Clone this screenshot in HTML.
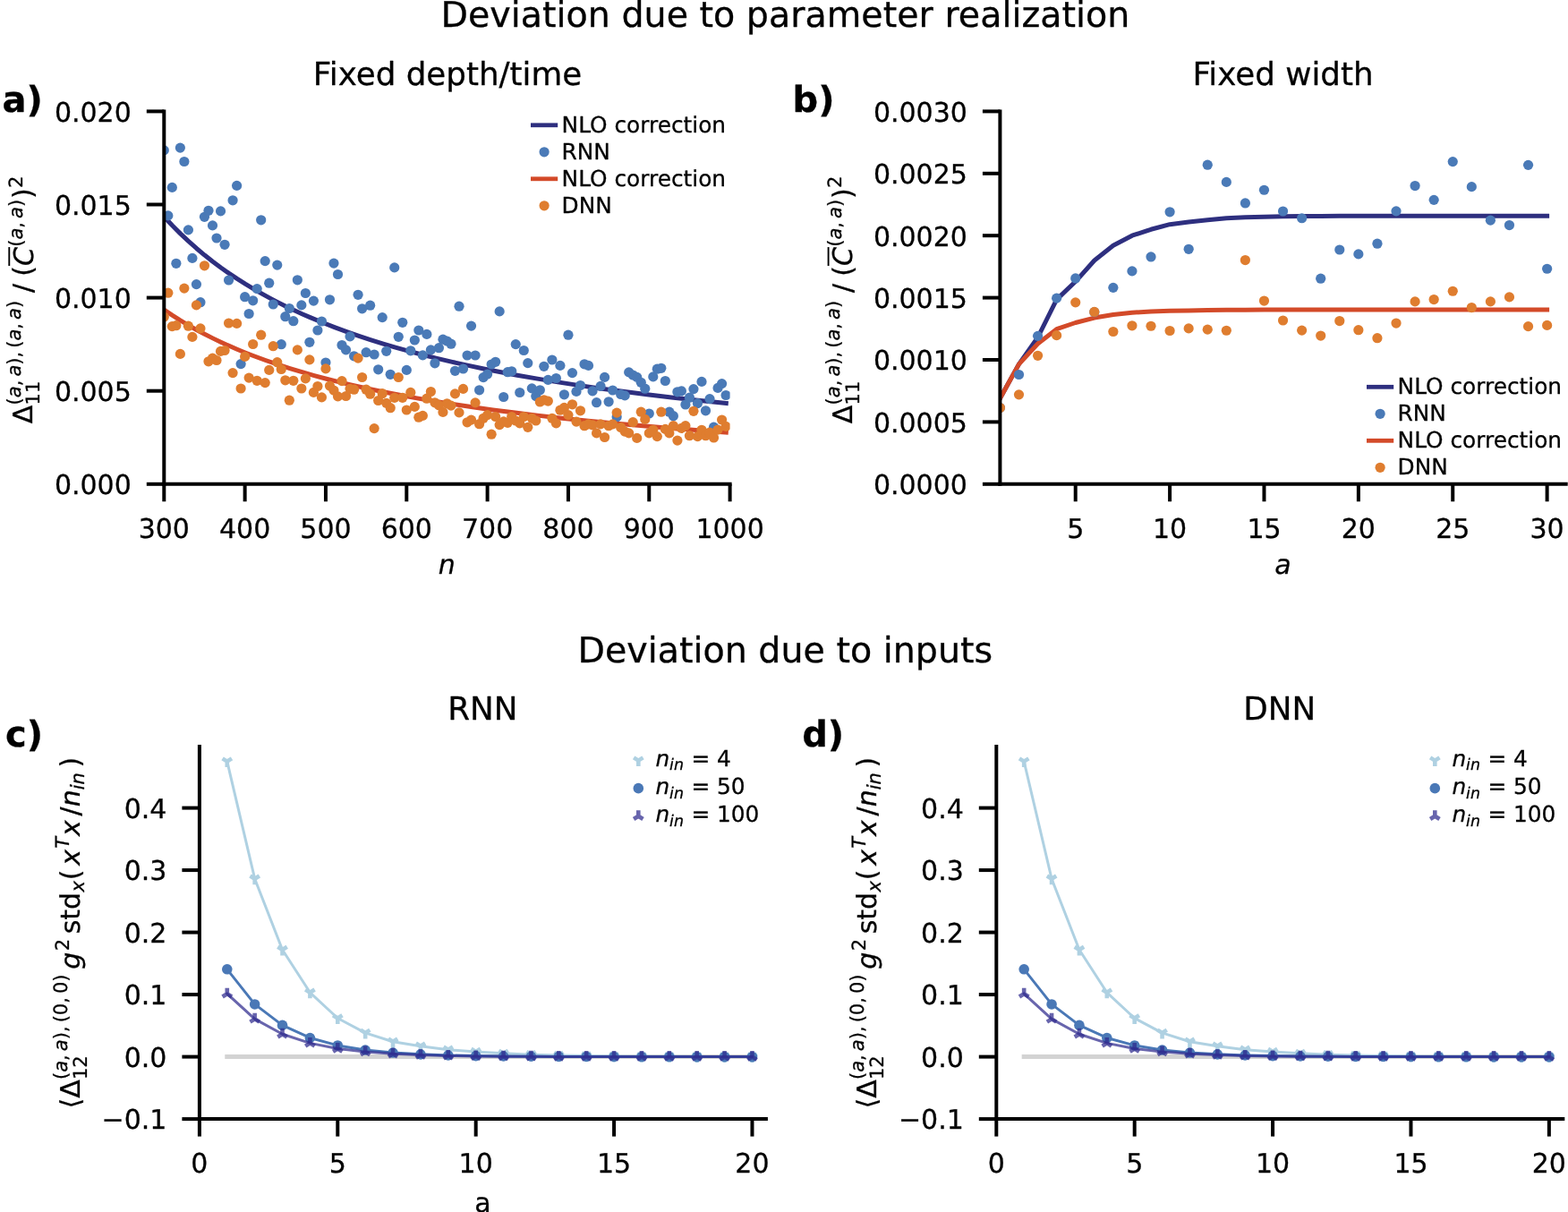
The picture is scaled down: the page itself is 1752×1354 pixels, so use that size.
<!DOCTYPE html>
<html><head><meta charset="utf-8"><title>Deviation due to parameter realization</title>
<style>html,body{margin:0;padding:0;background:#fff;width:1752px;height:1354px;overflow:hidden}svg{display:block}
text{font-family:"DejaVu Sans","Liberation Sans",sans-serif;text-rendering:geometricPrecision;stroke:#000;stroke-width:0.3px}</style></head>
<body>
<svg width="1752" height="1354" viewBox="0 0 1752 1354" version="1.1">
<defs>
<style type="text/css">*{stroke-linejoin: round; stroke-linecap: butt}</style>
</defs>
<g id="figure_1">
<g id="patch_1">
<path d="M 0 1354 
L 1752 1354 
L 1752 0 
L 0 0 
z
" style="fill: #ffffff"/>
</g>
<g id="axes_1">
<g id="line2d_1">
<path d="M 183.3 242.04 
L 192.37 251.77 
L 201.44 260.88 
L 210.51 269.43 
L 219.58 277.47 
L 228.65 285.05 
L 237.73 292.21 
L 246.80 298.97 
L 255.87 305.38 
L 264.94 311.45 
L 274.01 317.22 
L 283.09 322.70 
L 292.16 327.92 
L 301.23 332.89 
L 310.30 337.64 
L 319.37 342.17 
L 328.44 346.51 
L 337.52 350.65 
L 346.59 354.63 
L 360.20 360.28 
L 373.80 365.60 
L 387.41 370.62 
L 401.02 375.35 
L 414.63 379.83 
L 428.23 384.06 
L 441.84 388.08 
L 455.45 391.90 
L 469.06 395.53 
L 487.20 400.09 
L 505.35 404.38 
L 523.49 408.41 
L 541.63 412.21 
L 559.78 415.79 
L 577.92 419.18 
L 600.60 423.16 
L 623.28 426.88 
L 645.96 430.37 
L 668.64 433.66 
L 695.85 437.34 
L 723.07 440.78 
L 750.29 443.99 
L 777.50 447.00 
L 809.25 450.28 
L 813.79 450.73 
L 813.79 450.73 
" clip-path="url(#p0a8ad5ee20)" style="fill: none; stroke: #2e2f7f; stroke-width: 5"/>
</g>
<g id="line2d_2">
<path d="M 183.3 346.05 
L 192.37 352.19 
L 201.44 357.95 
L 210.51 363.37 
L 219.58 368.49 
L 228.65 373.32 
L 237.73 377.89 
L 246.80 382.22 
L 255.87 386.34 
L 264.94 390.24 
L 274.01 393.96 
L 283.09 397.51 
L 296.69 402.52 
L 310.30 407.21 
L 323.91 411.59 
L 337.52 415.71 
L 351.12 419.57 
L 364.73 423.22 
L 378.34 426.66 
L 391.95 429.91 
L 410.09 433.98 
L 428.23 437.77 
L 446.38 441.31 
L 464.52 444.63 
L 482.67 447.75 
L 505.35 451.38 
L 528.03 454.76 
L 550.70 457.91 
L 573.38 460.84 
L 600.60 464.12 
L 627.82 467.16 
L 655.03 469.99 
L 686.78 473.04 
L 718.53 475.86 
L 750.29 478.47 
L 786.57 481.24 
L 813.79 483.17 
L 813.79 483.17 
" clip-path="url(#p0a8ad5ee20)" style="fill: none; stroke: #d34a29; stroke-width: 5"/>
</g>
<g id="matplotlib.axis_1">
<g id="xtick_1">
<g id="line2d_3">
<g>
<path d="M 0 0 L 0 19.5" transform="translate(183.3 540.8)" style="stroke: #000000; stroke-width: 4"/>
</g>
</g>
<g id="text_1">
<text style="font-size: 30px; font-family: 'DejaVu Sans', 'Liberation Sans', sans-serif; text-anchor: middle" x="183.3" y="600.99">300</text>
</g>
</g>
<g id="xtick_2">
<g id="line2d_4">
<g>
<path d="M 0 0 L 0 19.5" transform="translate(273.63 540.8)" style="stroke: #000000; stroke-width: 4"/>
</g>
</g>
<g id="text_2">
<text style="font-size: 30px; font-family: 'DejaVu Sans', 'Liberation Sans', sans-serif; text-anchor: middle" x="273.62" y="600.99">400</text>
</g>
</g>
<g id="xtick_3">
<g id="line2d_5">
<g>
<path d="M 0 0 L 0 19.5" transform="translate(363.96 540.8)" style="stroke: #000000; stroke-width: 4"/>
</g>
</g>
<g id="text_3">
<text style="font-size: 30px; font-family: 'DejaVu Sans', 'Liberation Sans', sans-serif; text-anchor: middle" x="363.95" y="600.99">500</text>
</g>
</g>
<g id="xtick_4">
<g id="line2d_6">
<g>
<path d="M 0 0 L 0 19.5" transform="translate(454.29 540.8)" style="stroke: #000000; stroke-width: 4"/>
</g>
</g>
<g id="text_4">
<text style="font-size: 30px; font-family: 'DejaVu Sans', 'Liberation Sans', sans-serif; text-anchor: middle" x="454.28" y="600.99">600</text>
</g>
</g>
<g id="xtick_5">
<g id="line2d_7">
<g>
<path d="M 0 0 L 0 19.5" transform="translate(544.61 540.8)" style="stroke: #000000; stroke-width: 4"/>
</g>
</g>
<g id="text_5">
<text style="font-size: 30px; font-family: 'DejaVu Sans', 'Liberation Sans', sans-serif; text-anchor: middle" x="544.61" y="600.99">700</text>
</g>
</g>
<g id="xtick_6">
<g id="line2d_8">
<g>
<path d="M 0 0 L 0 19.5" transform="translate(634.94 540.8)" style="stroke: #000000; stroke-width: 4"/>
</g>
</g>
<g id="text_6">
<text style="font-size: 30px; font-family: 'DejaVu Sans', 'Liberation Sans', sans-serif; text-anchor: middle" x="634.94" y="600.99">800</text>
</g>
</g>
<g id="xtick_7">
<g id="line2d_9">
<g>
<path d="M 0 0 L 0 19.5" transform="translate(725.27 540.8)" style="stroke: #000000; stroke-width: 4"/>
</g>
</g>
<g id="text_7">
<text style="font-size: 30px; font-family: 'DejaVu Sans', 'Liberation Sans', sans-serif; text-anchor: middle" x="725.27" y="600.99">900</text>
</g>
</g>
<g id="xtick_8">
<g id="line2d_10">
<g>
<path d="M 0 0 L 0 19.5" transform="translate(815.6 540.8)" style="stroke: #000000; stroke-width: 4"/>
</g>
</g>
<g id="text_8">
<text style="font-size: 30px; font-family: 'DejaVu Sans', 'Liberation Sans', sans-serif; text-anchor: middle" x="815.6" y="600.99">1000</text>
</g>
</g>
</g>
<g id="matplotlib.axis_2">
<g id="ytick_1">
<g id="line2d_11">
<g>
<path d="M 0 0 L -19.5 0" transform="translate(183.3 540.8)" style="stroke: #000000; stroke-width: 4"/>
</g>
</g>
<g id="text_9">
<text style="font-size: 30px; font-family: 'DejaVu Sans', 'Liberation Sans', sans-serif; text-anchor: end" x="146.8" y="552.19">0.000</text>
</g>
</g>
<g id="ytick_2">
<g id="line2d_12">
<g>
<path d="M 0 0 L -19.5 0" transform="translate(183.3 436.7)" style="stroke: #000000; stroke-width: 4"/>
</g>
</g>
<g id="text_10">
<text style="font-size: 30px; font-family: 'DejaVu Sans', 'Liberation Sans', sans-serif; text-anchor: end" x="146.8" y="448.09">0.005</text>
</g>
</g>
<g id="ytick_3">
<g id="line2d_13">
<g>
<path d="M 0 0 L -19.5 0" transform="translate(183.3 332.6)" style="stroke: #000000; stroke-width: 4"/>
</g>
</g>
<g id="text_11">
<text style="font-size: 30px; font-family: 'DejaVu Sans', 'Liberation Sans', sans-serif; text-anchor: end" x="146.8" y="343.99">0.010</text>
</g>
</g>
<g id="ytick_4">
<g id="line2d_14">
<g>
<path d="M 0 0 L -19.5 0" transform="translate(183.3 228.5)" style="stroke: #000000; stroke-width: 4"/>
</g>
</g>
<g id="text_12">
<text style="font-size: 30px; font-family: 'DejaVu Sans', 'Liberation Sans', sans-serif; text-anchor: end" x="146.8" y="239.89">0.015</text>
</g>
</g>
<g id="ytick_5">
<g id="line2d_15">
<g>
<path d="M 0 0 L -19.5 0" transform="translate(183.3 124.4)" style="stroke: #000000; stroke-width: 4"/>
</g>
</g>
<g id="text_13">
<text style="font-size: 30px; font-family: 'DejaVu Sans', 'Liberation Sans', sans-serif; text-anchor: end" x="146.8" y="135.79">0.020</text>
</g>
</g>
</g>
<g id="line2d_16">
<g clip-path="url(#p0a8ad5ee20)">
<circle cx="183.3" cy="167.9" r="5.6" style="fill: #4a7ab7"/>
<circle cx="187.82" cy="240.9" r="5.6" style="fill: #4a7ab7"/>
<circle cx="192.33" cy="209.4" r="5.6" style="fill: #4a7ab7"/>
<circle cx="196.85" cy="294.3" r="5.6" style="fill: #4a7ab7"/>
<circle cx="201.37" cy="165.1" r="5.6" style="fill: #4a7ab7"/>
<circle cx="205.88" cy="180.5" r="5.6" style="fill: #4a7ab7"/>
<circle cx="210.4" cy="256.9" r="5.6" style="fill: #4a7ab7"/>
<circle cx="214.91" cy="288.4" r="5.6" style="fill: #4a7ab7"/>
<circle cx="219.43" cy="317.6" r="5.6" style="fill: #4a7ab7"/>
<circle cx="223.95" cy="337.7" r="5.6" style="fill: #4a7ab7"/>
<circle cx="228.46" cy="242.3" r="5.6" style="fill: #4a7ab7"/>
<circle cx="232.98" cy="235.3" r="5.6" style="fill: #4a7ab7"/>
<circle cx="237.5" cy="251.9" r="5.6" style="fill: #4a7ab7"/>
<circle cx="242.01" cy="266" r="5.6" style="fill: #4a7ab7"/>
<circle cx="246.53" cy="235.9" r="5.6" style="fill: #4a7ab7"/>
<circle cx="251.05" cy="273.3" r="5.6" style="fill: #4a7ab7"/>
<circle cx="255.56" cy="313" r="5.6" style="fill: #4a7ab7"/>
<circle cx="260.08" cy="223.8" r="5.6" style="fill: #4a7ab7"/>
<circle cx="264.6" cy="207.4" r="5.6" style="fill: #4a7ab7"/>
<circle cx="269.11" cy="406.6" r="5.6" style="fill: #4a7ab7"/>
<circle cx="273.63" cy="331.7" r="5.6" style="fill: #4a7ab7"/>
<circle cx="278.14" cy="350.5" r="5.6" style="fill: #4a7ab7"/>
<circle cx="282.66" cy="335.8" r="5.6" style="fill: #4a7ab7"/>
<circle cx="287.18" cy="322.6" r="5.6" style="fill: #4a7ab7"/>
<circle cx="291.69" cy="245.8" r="5.6" style="fill: #4a7ab7"/>
<circle cx="296.21" cy="291.6" r="5.6" style="fill: #4a7ab7"/>
<circle cx="300.73" cy="316.2" r="5.6" style="fill: #4a7ab7"/>
<circle cx="305.24" cy="340" r="5.6" style="fill: #4a7ab7"/>
<circle cx="309.76" cy="296.1" r="5.6" style="fill: #4a7ab7"/>
<circle cx="314.28" cy="384.7" r="5.6" style="fill: #4a7ab7"/>
<circle cx="318.79" cy="353.7" r="5.6" style="fill: #4a7ab7"/>
<circle cx="323.31" cy="344.5" r="5.6" style="fill: #4a7ab7"/>
<circle cx="327.83" cy="358.7" r="5.6" style="fill: #4a7ab7"/>
<circle cx="332.34" cy="312.8" r="5.6" style="fill: #4a7ab7"/>
<circle cx="336.86" cy="340.9" r="5.6" style="fill: #4a7ab7"/>
<circle cx="341.38" cy="327.5" r="5.6" style="fill: #4a7ab7"/>
<circle cx="345.89" cy="382.3" r="5.6" style="fill: #4a7ab7"/>
<circle cx="350.41" cy="336.1" r="5.6" style="fill: #4a7ab7"/>
<circle cx="354.92" cy="369" r="5.6" style="fill: #4a7ab7"/>
<circle cx="359.44" cy="359" r="5.6" style="fill: #4a7ab7"/>
<circle cx="363.96" cy="405" r="5.6" style="fill: #4a7ab7"/>
<circle cx="368.47" cy="334.8" r="5.6" style="fill: #4a7ab7"/>
<circle cx="372.99" cy="294.1" r="5.6" style="fill: #4a7ab7"/>
<circle cx="377.51" cy="306.5" r="5.6" style="fill: #4a7ab7"/>
<circle cx="382.02" cy="385.5" r="5.6" style="fill: #4a7ab7"/>
<circle cx="386.54" cy="390.9" r="5.6" style="fill: #4a7ab7"/>
<circle cx="391.06" cy="375.9" r="5.6" style="fill: #4a7ab7"/>
<circle cx="395.57" cy="397.8" r="5.6" style="fill: #4a7ab7"/>
<circle cx="400.09" cy="329.3" r="5.6" style="fill: #4a7ab7"/>
<circle cx="404.61" cy="344.8" r="5.6" style="fill: #4a7ab7"/>
<circle cx="409.12" cy="393.7" r="5.6" style="fill: #4a7ab7"/>
<circle cx="413.64" cy="341.2" r="5.6" style="fill: #4a7ab7"/>
<circle cx="418.15" cy="396" r="5.6" style="fill: #4a7ab7"/>
<circle cx="422.67" cy="412.8" r="5.6" style="fill: #4a7ab7"/>
<circle cx="427.19" cy="354.6" r="5.6" style="fill: #4a7ab7"/>
<circle cx="431.7" cy="392.3" r="5.6" style="fill: #4a7ab7"/>
<circle cx="436.22" cy="418.3" r="5.6" style="fill: #4a7ab7"/>
<circle cx="440.74" cy="298.9" r="5.6" style="fill: #4a7ab7"/>
<circle cx="445.25" cy="376.3" r="5.6" style="fill: #4a7ab7"/>
<circle cx="449.77" cy="360.3" r="5.6" style="fill: #4a7ab7"/>
<circle cx="454.29" cy="413.4" r="5.6" style="fill: #4a7ab7"/>
<circle cx="458.8" cy="391.8" r="5.6" style="fill: #4a7ab7"/>
<circle cx="463.32" cy="380" r="5.6" style="fill: #4a7ab7"/>
<circle cx="467.83" cy="369" r="5.6" style="fill: #4a7ab7"/>
<circle cx="472.35" cy="396.9" r="5.6" style="fill: #4a7ab7"/>
<circle cx="476.87" cy="373.4" r="5.6" style="fill: #4a7ab7"/>
<circle cx="481.38" cy="390.9" r="5.6" style="fill: #4a7ab7"/>
<circle cx="485.9" cy="405.8" r="5.6" style="fill: #4a7ab7"/>
<circle cx="490.42" cy="388.7" r="5.6" style="fill: #4a7ab7"/>
<circle cx="494.93" cy="379.2" r="5.6" style="fill: #4a7ab7"/>
<circle cx="499.45" cy="381" r="5.6" style="fill: #4a7ab7"/>
<circle cx="503.97" cy="384.2" r="5.6" style="fill: #4a7ab7"/>
<circle cx="508.48" cy="414.3" r="5.6" style="fill: #4a7ab7"/>
<circle cx="513" cy="342.2" r="5.6" style="fill: #4a7ab7"/>
<circle cx="517.52" cy="412" r="5.6" style="fill: #4a7ab7"/>
<circle cx="522.03" cy="397" r="5.6" style="fill: #4a7ab7"/>
<circle cx="526.55" cy="364.1" r="5.6" style="fill: #4a7ab7"/>
<circle cx="531.07" cy="397" r="5.6" style="fill: #4a7ab7"/>
<circle cx="535.58" cy="435.8" r="5.6" style="fill: #4a7ab7"/>
<circle cx="540.1" cy="421.6" r="5.6" style="fill: #4a7ab7"/>
<circle cx="544.61" cy="418" r="5.6" style="fill: #4a7ab7"/>
<circle cx="549.13" cy="407" r="5.6" style="fill: #4a7ab7"/>
<circle cx="553.65" cy="404.3" r="5.6" style="fill: #4a7ab7"/>
<circle cx="558.16" cy="347.9" r="5.6" style="fill: #4a7ab7"/>
<circle cx="562.68" cy="443.5" r="5.6" style="fill: #4a7ab7"/>
<circle cx="567.2" cy="415.7" r="5.6" style="fill: #4a7ab7"/>
<circle cx="571.71" cy="414.8" r="5.6" style="fill: #4a7ab7"/>
<circle cx="576.23" cy="384.6" r="5.6" style="fill: #4a7ab7"/>
<circle cx="580.75" cy="438.5" r="5.6" style="fill: #4a7ab7"/>
<circle cx="585.26" cy="391.5" r="5.6" style="fill: #4a7ab7"/>
<circle cx="589.78" cy="405.6" r="5.6" style="fill: #4a7ab7"/>
<circle cx="594.29" cy="433.9" r="5.6" style="fill: #4a7ab7"/>
<circle cx="598.81" cy="442.6" r="5.6" style="fill: #4a7ab7"/>
<circle cx="603.33" cy="435.8" r="5.6" style="fill: #4a7ab7"/>
<circle cx="607.84" cy="409.3" r="5.6" style="fill: #4a7ab7"/>
<circle cx="612.36" cy="424.4" r="5.6" style="fill: #4a7ab7"/>
<circle cx="616.88" cy="402" r="5.6" style="fill: #4a7ab7"/>
<circle cx="621.39" cy="422.5" r="5.6" style="fill: #4a7ab7"/>
<circle cx="625.91" cy="408.4" r="5.6" style="fill: #4a7ab7"/>
<circle cx="630.43" cy="440.8" r="5.6" style="fill: #4a7ab7"/>
<circle cx="634.94" cy="374.2" r="5.6" style="fill: #4a7ab7"/>
<circle cx="639.46" cy="416.6" r="5.6" style="fill: #4a7ab7"/>
<circle cx="643.98" cy="437.4" r="5.6" style="fill: #4a7ab7"/>
<circle cx="648.49" cy="430.5" r="5.6" style="fill: #4a7ab7"/>
<circle cx="653.01" cy="406.8" r="5.6" style="fill: #4a7ab7"/>
<circle cx="657.52" cy="408.4" r="5.6" style="fill: #4a7ab7"/>
<circle cx="662.04" cy="436.9" r="5.6" style="fill: #4a7ab7"/>
<circle cx="666.56" cy="449.7" r="5.6" style="fill: #4a7ab7"/>
<circle cx="671.07" cy="431.4" r="5.6" style="fill: #4a7ab7"/>
<circle cx="675.59" cy="421.4" r="5.6" style="fill: #4a7ab7"/>
<circle cx="680.11" cy="448.8" r="5.6" style="fill: #4a7ab7"/>
<circle cx="684.62" cy="436" r="5.6" style="fill: #4a7ab7"/>
<circle cx="689.14" cy="465.7" r="5.6" style="fill: #4a7ab7"/>
<circle cx="693.66" cy="440.5" r="5.6" style="fill: #4a7ab7"/>
<circle cx="698.17" cy="441.9" r="5.6" style="fill: #4a7ab7"/>
<circle cx="702.69" cy="415.9" r="5.6" style="fill: #4a7ab7"/>
<circle cx="707.21" cy="419" r="5.6" style="fill: #4a7ab7"/>
<circle cx="711.72" cy="421.4" r="5.6" style="fill: #4a7ab7"/>
<circle cx="716.24" cy="427.3" r="5.6" style="fill: #4a7ab7"/>
<circle cx="720.75" cy="434.2" r="5.6" style="fill: #4a7ab7"/>
<circle cx="725.27" cy="462" r="5.6" style="fill: #4a7ab7"/>
<circle cx="729.79" cy="420.9" r="5.6" style="fill: #4a7ab7"/>
<circle cx="734.3" cy="412.2" r="5.6" style="fill: #4a7ab7"/>
<circle cx="738.82" cy="411.3" r="5.6" style="fill: #4a7ab7"/>
<circle cx="743.34" cy="425.5" r="5.6" style="fill: #4a7ab7"/>
<circle cx="747.85" cy="460.2" r="5.6" style="fill: #4a7ab7"/>
<circle cx="752.37" cy="464.7" r="5.6" style="fill: #4a7ab7"/>
<circle cx="756.89" cy="437.8" r="5.6" style="fill: #4a7ab7"/>
<circle cx="761.4" cy="436.9" r="5.6" style="fill: #4a7ab7"/>
<circle cx="765.92" cy="452" r="5.6" style="fill: #4a7ab7"/>
<circle cx="770.44" cy="444.2" r="5.6" style="fill: #4a7ab7"/>
<circle cx="774.95" cy="434.6" r="5.6" style="fill: #4a7ab7"/>
<circle cx="779.47" cy="450.6" r="5.6" style="fill: #4a7ab7"/>
<circle cx="783.99" cy="426.4" r="5.6" style="fill: #4a7ab7"/>
<circle cx="788.5" cy="458.8" r="5.6" style="fill: #4a7ab7"/>
<circle cx="793.02" cy="445.6" r="5.6" style="fill: #4a7ab7"/>
<circle cx="797.53" cy="477.2" r="5.6" style="fill: #4a7ab7"/>
<circle cx="802.05" cy="433.4" r="5.6" style="fill: #4a7ab7"/>
<circle cx="806.57" cy="428.6" r="5.6" style="fill: #4a7ab7"/>
<circle cx="811.08" cy="441.5" r="5.6" style="fill: #4a7ab7"/>
</g>
</g>
<g id="line2d_17">
<g clip-path="url(#p0a8ad5ee20)">
<circle cx="183.3" cy="354.1" r="5.6" style="fill: #df7d2f"/>
<circle cx="187.82" cy="327.2" r="5.6" style="fill: #df7d2f"/>
<circle cx="192.33" cy="364.6" r="5.6" style="fill: #df7d2f"/>
<circle cx="196.85" cy="363.7" r="5.6" style="fill: #df7d2f"/>
<circle cx="201.37" cy="395.4" r="5.6" style="fill: #df7d2f"/>
<circle cx="205.88" cy="322.1" r="5.6" style="fill: #df7d2f"/>
<circle cx="210.4" cy="364.2" r="5.6" style="fill: #df7d2f"/>
<circle cx="214.91" cy="376.4" r="5.6" style="fill: #df7d2f"/>
<circle cx="219.43" cy="340.9" r="5.6" style="fill: #df7d2f"/>
<circle cx="223.95" cy="366.9" r="5.6" style="fill: #df7d2f"/>
<circle cx="228.46" cy="296.8" r="5.6" style="fill: #df7d2f"/>
<circle cx="232.98" cy="403.8" r="5.6" style="fill: #df7d2f"/>
<circle cx="237.5" cy="400.2" r="5.6" style="fill: #df7d2f"/>
<circle cx="242.01" cy="402.5" r="5.6" style="fill: #df7d2f"/>
<circle cx="246.53" cy="392.4" r="5.6" style="fill: #df7d2f"/>
<circle cx="251.05" cy="391.5" r="5.6" style="fill: #df7d2f"/>
<circle cx="255.56" cy="361" r="5.6" style="fill: #df7d2f"/>
<circle cx="260.08" cy="416.6" r="5.6" style="fill: #df7d2f"/>
<circle cx="264.6" cy="361.4" r="5.6" style="fill: #df7d2f"/>
<circle cx="269.11" cy="434" r="5.6" style="fill: #df7d2f"/>
<circle cx="273.63" cy="398.4" r="5.6" style="fill: #df7d2f"/>
<circle cx="278.14" cy="422.1" r="5.6" style="fill: #df7d2f"/>
<circle cx="282.66" cy="384.5" r="5.6" style="fill: #df7d2f"/>
<circle cx="287.18" cy="425.3" r="5.6" style="fill: #df7d2f"/>
<circle cx="291.69" cy="374.2" r="5.6" style="fill: #df7d2f"/>
<circle cx="296.21" cy="427.6" r="5.6" style="fill: #df7d2f"/>
<circle cx="300.73" cy="413.4" r="5.6" style="fill: #df7d2f"/>
<circle cx="305.24" cy="386.7" r="5.6" style="fill: #df7d2f"/>
<circle cx="309.76" cy="404.7" r="5.6" style="fill: #df7d2f"/>
<circle cx="314.28" cy="412.5" r="5.6" style="fill: #df7d2f"/>
<circle cx="318.79" cy="424.8" r="5.6" style="fill: #df7d2f"/>
<circle cx="323.31" cy="447.2" r="5.6" style="fill: #df7d2f"/>
<circle cx="327.83" cy="425.3" r="5.6" style="fill: #df7d2f"/>
<circle cx="332.34" cy="390.9" r="5.6" style="fill: #df7d2f"/>
<circle cx="336.86" cy="434" r="5.6" style="fill: #df7d2f"/>
<circle cx="341.38" cy="422.9" r="5.6" style="fill: #df7d2f"/>
<circle cx="345.89" cy="401.9" r="5.6" style="fill: #df7d2f"/>
<circle cx="350.41" cy="438.4" r="5.6" style="fill: #df7d2f"/>
<circle cx="354.92" cy="431.5" r="5.6" style="fill: #df7d2f"/>
<circle cx="359.44" cy="443.9" r="5.6" style="fill: #df7d2f"/>
<circle cx="363.96" cy="411.9" r="5.6" style="fill: #df7d2f"/>
<circle cx="368.47" cy="431.1" r="5.6" style="fill: #df7d2f"/>
<circle cx="372.99" cy="436.1" r="5.6" style="fill: #df7d2f"/>
<circle cx="377.51" cy="442.9" r="5.6" style="fill: #df7d2f"/>
<circle cx="382.02" cy="425.6" r="5.6" style="fill: #df7d2f"/>
<circle cx="386.54" cy="442.5" r="5.6" style="fill: #df7d2f"/>
<circle cx="391.06" cy="434.3" r="5.6" style="fill: #df7d2f"/>
<circle cx="395.57" cy="435.2" r="5.6" style="fill: #df7d2f"/>
<circle cx="400.09" cy="400.1" r="5.6" style="fill: #df7d2f"/>
<circle cx="404.61" cy="421.5" r="5.6" style="fill: #df7d2f"/>
<circle cx="409.12" cy="435.2" r="5.6" style="fill: #df7d2f"/>
<circle cx="413.64" cy="440.2" r="5.6" style="fill: #df7d2f"/>
<circle cx="418.15" cy="478.6" r="5.6" style="fill: #df7d2f"/>
<circle cx="422.67" cy="447.5" r="5.6" style="fill: #df7d2f"/>
<circle cx="427.19" cy="439.7" r="5.6" style="fill: #df7d2f"/>
<circle cx="431.7" cy="450.3" r="5.6" style="fill: #df7d2f"/>
<circle cx="436.22" cy="455.7" r="5.6" style="fill: #df7d2f"/>
<circle cx="440.74" cy="444.3" r="5.6" style="fill: #df7d2f"/>
<circle cx="445.25" cy="421.5" r="5.6" style="fill: #df7d2f"/>
<circle cx="449.77" cy="444.3" r="5.6" style="fill: #df7d2f"/>
<circle cx="454.29" cy="458" r="5.6" style="fill: #df7d2f"/>
<circle cx="458.8" cy="438.4" r="5.6" style="fill: #df7d2f"/>
<circle cx="463.32" cy="454.4" r="5.6" style="fill: #df7d2f"/>
<circle cx="467.83" cy="466.2" r="5.6" style="fill: #df7d2f"/>
<circle cx="472.35" cy="464.4" r="5.6" style="fill: #df7d2f"/>
<circle cx="476.87" cy="445.2" r="5.6" style="fill: #df7d2f"/>
<circle cx="481.38" cy="437.5" r="5.6" style="fill: #df7d2f"/>
<circle cx="485.9" cy="449.8" r="5.6" style="fill: #df7d2f"/>
<circle cx="490.42" cy="452.7" r="5.6" style="fill: #df7d2f"/>
<circle cx="494.93" cy="460.4" r="5.6" style="fill: #df7d2f"/>
<circle cx="499.45" cy="450.8" r="5.6" style="fill: #df7d2f"/>
<circle cx="503.97" cy="453.1" r="5.6" style="fill: #df7d2f"/>
<circle cx="508.48" cy="439.9" r="5.6" style="fill: #df7d2f"/>
<circle cx="513" cy="460.9" r="5.6" style="fill: #df7d2f"/>
<circle cx="517.52" cy="434.4" r="5.6" style="fill: #df7d2f"/>
<circle cx="522.03" cy="471.8" r="5.6" style="fill: #df7d2f"/>
<circle cx="526.55" cy="469.1" r="5.6" style="fill: #df7d2f"/>
<circle cx="531.07" cy="449.9" r="5.6" style="fill: #df7d2f"/>
<circle cx="535.58" cy="473.7" r="5.6" style="fill: #df7d2f"/>
<circle cx="540.1" cy="467.3" r="5.6" style="fill: #df7d2f"/>
<circle cx="544.61" cy="463.6" r="5.6" style="fill: #df7d2f"/>
<circle cx="549.13" cy="485.2" r="5.6" style="fill: #df7d2f"/>
<circle cx="553.65" cy="465.5" r="5.6" style="fill: #df7d2f"/>
<circle cx="558.16" cy="474.6" r="5.6" style="fill: #df7d2f"/>
<circle cx="562.68" cy="470.9" r="5.6" style="fill: #df7d2f"/>
<circle cx="567.2" cy="472.3" r="5.6" style="fill: #df7d2f"/>
<circle cx="571.71" cy="465.5" r="5.6" style="fill: #df7d2f"/>
<circle cx="576.23" cy="470" r="5.6" style="fill: #df7d2f"/>
<circle cx="580.75" cy="472.8" r="5.6" style="fill: #df7d2f"/>
<circle cx="585.26" cy="465.5" r="5.6" style="fill: #df7d2f"/>
<circle cx="589.78" cy="477.3" r="5.6" style="fill: #df7d2f"/>
<circle cx="594.29" cy="467.3" r="5.6" style="fill: #df7d2f"/>
<circle cx="598.81" cy="470" r="5.6" style="fill: #df7d2f"/>
<circle cx="603.33" cy="449" r="5.6" style="fill: #df7d2f"/>
<circle cx="607.84" cy="446.8" r="5.6" style="fill: #df7d2f"/>
<circle cx="612.36" cy="448.1" r="5.6" style="fill: #df7d2f"/>
<circle cx="616.88" cy="467.3" r="5.6" style="fill: #df7d2f"/>
<circle cx="621.39" cy="472.8" r="5.6" style="fill: #df7d2f"/>
<circle cx="625.91" cy="458.2" r="5.6" style="fill: #df7d2f"/>
<circle cx="630.43" cy="455.4" r="5.6" style="fill: #df7d2f"/>
<circle cx="634.94" cy="463.6" r="5.6" style="fill: #df7d2f"/>
<circle cx="639.46" cy="451.8" r="5.6" style="fill: #df7d2f"/>
<circle cx="643.98" cy="471.1" r="5.6" style="fill: #df7d2f"/>
<circle cx="648.49" cy="458.8" r="5.6" style="fill: #df7d2f"/>
<circle cx="653.01" cy="475.7" r="5.6" style="fill: #df7d2f"/>
<circle cx="657.52" cy="473.9" r="5.6" style="fill: #df7d2f"/>
<circle cx="662.04" cy="474.8" r="5.6" style="fill: #df7d2f"/>
<circle cx="666.56" cy="483.9" r="5.6" style="fill: #df7d2f"/>
<circle cx="671.07" cy="473.9" r="5.6" style="fill: #df7d2f"/>
<circle cx="675.59" cy="488.5" r="5.6" style="fill: #df7d2f"/>
<circle cx="680.11" cy="475.7" r="5.6" style="fill: #df7d2f"/>
<circle cx="684.62" cy="473.9" r="5.6" style="fill: #df7d2f"/>
<circle cx="689.14" cy="461.1" r="5.6" style="fill: #df7d2f"/>
<circle cx="693.66" cy="477.5" r="5.6" style="fill: #df7d2f"/>
<circle cx="698.17" cy="482.1" r="5.6" style="fill: #df7d2f"/>
<circle cx="702.69" cy="483.9" r="5.6" style="fill: #df7d2f"/>
<circle cx="707.21" cy="471.6" r="5.6" style="fill: #df7d2f"/>
<circle cx="711.72" cy="489.4" r="5.6" style="fill: #df7d2f"/>
<circle cx="716.24" cy="460.2" r="5.6" style="fill: #df7d2f"/>
<circle cx="720.75" cy="468.4" r="5.6" style="fill: #df7d2f"/>
<circle cx="725.27" cy="483.9" r="5.6" style="fill: #df7d2f"/>
<circle cx="729.79" cy="480.3" r="5.6" style="fill: #df7d2f"/>
<circle cx="734.3" cy="487.6" r="5.6" style="fill: #df7d2f"/>
<circle cx="738.82" cy="460.2" r="5.6" style="fill: #df7d2f"/>
<circle cx="743.34" cy="479.4" r="5.6" style="fill: #df7d2f"/>
<circle cx="747.85" cy="483.9" r="5.6" style="fill: #df7d2f"/>
<circle cx="752.37" cy="475.7" r="5.6" style="fill: #df7d2f"/>
<circle cx="756.89" cy="492.1" r="5.6" style="fill: #df7d2f"/>
<circle cx="761.4" cy="478.4" r="5.6" style="fill: #df7d2f"/>
<circle cx="765.92" cy="475.7" r="5.6" style="fill: #df7d2f"/>
<circle cx="770.44" cy="486.7" r="5.6" style="fill: #df7d2f"/>
<circle cx="774.95" cy="459.3" r="5.6" style="fill: #df7d2f"/>
<circle cx="779.47" cy="487.6" r="5.6" style="fill: #df7d2f"/>
<circle cx="783.99" cy="480.3" r="5.6" style="fill: #df7d2f"/>
<circle cx="788.5" cy="486.7" r="5.6" style="fill: #df7d2f"/>
<circle cx="793.02" cy="483.1" r="5.6" style="fill: #df7d2f"/>
<circle cx="797.53" cy="489" r="5.6" style="fill: #df7d2f"/>
<circle cx="802.05" cy="480.1" r="5.6" style="fill: #df7d2f"/>
<circle cx="806.57" cy="469" r="5.6" style="fill: #df7d2f"/>
<circle cx="811.08" cy="476.4" r="5.6" style="fill: #df7d2f"/>
</g>
</g>
<g id="patch_2">
<path d="M 183.3 540.8 
L 183.3 124.4 
" style="fill: none; stroke: #000000; stroke-width: 4; stroke-linejoin: miter; stroke-linecap: square"/>
</g>
<g id="patch_3">
<path d="M 183.3 540.8 
L 815.6 540.8 
" style="fill: none; stroke: #000000; stroke-width: 4; stroke-linejoin: miter; stroke-linecap: square"/>
</g>
</g>
<g id="axes_2">
<g id="line2d_18">
<path d="M 1117.4 445.02 
L 1138.47 406.85 
L 1159.55 377.01 
L 1180.63 334.68 
L 1201.70 314.55 
L 1222.78 290.96 
L 1243.86 274.30 
L 1264.93 263.2 
L 1286.01 256.26 
L 1307.09 250.70 
L 1328.16 247.93 
L 1349.24 245.71 
L 1370.32 243.76 
L 1391.39 242.79 
L 1412.47 242.24 
L 1433.55 241.82 
L 1454.62 241.54 
L 1475.70 241.40 
L 1496.78 241.26 
L 1517.85 241.13 
L 1538.93 241.13 
L 1560.01 241.13 
L 1581.08 241.13 
L 1602.16 241.13 
L 1623.24 241.13 
L 1644.31 241.13 
L 1665.39 241.13 
L 1686.47 241.13 
L 1707.54 241.13 
L 1728.62 241.13 
" clip-path="url(#pb2a341b785)" style="fill: none; stroke: #2e2f7f; stroke-width: 5; stroke-linecap: square"/>
</g>
<g id="line2d_19">
<path d="M 1117.4 445.02 
L 1138.47 406.85 
L 1159.55 383.95 
L 1180.63 367.71 
L 1201.70 360.49 
L 1222.78 355.08 
L 1243.86 351.47 
L 1264.93 349.25 
L 1286.01 348.00 
L 1307.09 347.31 
L 1328.16 346.89 
L 1349.24 346.48 
L 1370.32 346.34 
L 1391.39 346.20 
L 1412.47 346.06 
L 1433.55 346.06 
L 1454.62 346.06 
L 1475.70 346.06 
L 1496.78 346.06 
L 1517.85 346.06 
L 1538.93 346.06 
L 1560.01 346.06 
L 1581.08 346.06 
L 1602.16 346.06 
L 1623.24 346.06 
L 1644.31 346.06 
L 1665.39 346.06 
L 1686.47 346.06 
L 1707.54 346.06 
L 1728.62 346.06 
" clip-path="url(#pb2a341b785)" style="fill: none; stroke: #d34a29; stroke-width: 5; stroke-linecap: square"/>
</g>
<g id="matplotlib.axis_3">
<g id="xtick_9">
<g id="line2d_20">
<g>
<path d="M 0 0 L 0 19.5" transform="translate(1201.71 540.8)" style="stroke: #000000; stroke-width: 4"/>
</g>
</g>
<g id="text_14">
<text style="font-size: 30px; font-family: 'DejaVu Sans', 'Liberation Sans', sans-serif; text-anchor: middle" x="1201.70" y="600.99">5</text>
</g>
</g>
<g id="xtick_10">
<g id="line2d_21">
<g>
<path d="M 0 0 L 0 19.5" transform="translate(1307.09 540.8)" style="stroke: #000000; stroke-width: 4"/>
</g>
</g>
<g id="text_15">
<text style="font-size: 30px; font-family: 'DejaVu Sans', 'Liberation Sans', sans-serif; text-anchor: middle" x="1307.09" y="600.99">10</text>
</g>
</g>
<g id="xtick_11">
<g id="line2d_22">
<g>
<path d="M 0 0 L 0 19.5" transform="translate(1412.47 540.8)" style="stroke: #000000; stroke-width: 4"/>
</g>
</g>
<g id="text_16">
<text style="font-size: 30px; font-family: 'DejaVu Sans', 'Liberation Sans', sans-serif; text-anchor: middle" x="1412.47" y="600.99">15</text>
</g>
</g>
<g id="xtick_12">
<g id="line2d_23">
<g>
<path d="M 0 0 L 0 19.5" transform="translate(1517.86 540.8)" style="stroke: #000000; stroke-width: 4"/>
</g>
</g>
<g id="text_17">
<text style="font-size: 30px; font-family: 'DejaVu Sans', 'Liberation Sans', sans-serif; text-anchor: middle" x="1517.85" y="600.99">20</text>
</g>
</g>
<g id="xtick_13">
<g id="line2d_24">
<g>
<path d="M 0 0 L 0 19.5" transform="translate(1623.24 540.8)" style="stroke: #000000; stroke-width: 4"/>
</g>
</g>
<g id="text_18">
<text style="font-size: 30px; font-family: 'DejaVu Sans', 'Liberation Sans', sans-serif; text-anchor: middle" x="1623.24" y="600.99">25</text>
</g>
</g>
<g id="xtick_14">
<g id="line2d_25">
<g>
<path d="M 0 0 L 0 19.5" transform="translate(1728.62 540.8)" style="stroke: #000000; stroke-width: 4"/>
</g>
</g>
<g id="text_19">
<text style="font-size: 30px; font-family: 'DejaVu Sans', 'Liberation Sans', sans-serif; text-anchor: middle" x="1728.62" y="600.99">30</text>
</g>
</g>
</g>
<g id="matplotlib.axis_4">
<g id="ytick_6">
<g id="line2d_26">
<g>
<path d="M 0 0 L -19.5 0" transform="translate(1117.4 540.8)" style="stroke: #000000; stroke-width: 4"/>
</g>
</g>
<g id="text_20">
<text style="font-size: 30px; font-family: 'DejaVu Sans', 'Liberation Sans', sans-serif; text-anchor: end" x="1080.9" y="552.19">0.0000</text>
</g>
</g>
<g id="ytick_7">
<g id="line2d_27">
<g>
<path d="M 0 0 L -19.5 0" transform="translate(1117.4 471.4)" style="stroke: #000000; stroke-width: 4"/>
</g>
</g>
<g id="text_21">
<text style="font-size: 30px; font-family: 'DejaVu Sans', 'Liberation Sans', sans-serif; text-anchor: end" x="1080.9" y="482.79">0.0005</text>
</g>
</g>
<g id="ytick_8">
<g id="line2d_28">
<g>
<path d="M 0 0 L -19.5 0" transform="translate(1117.4 402)" style="stroke: #000000; stroke-width: 4"/>
</g>
</g>
<g id="text_22">
<text style="font-size: 30px; font-family: 'DejaVu Sans', 'Liberation Sans', sans-serif; text-anchor: end" x="1080.9" y="413.39">0.0010</text>
</g>
</g>
<g id="ytick_9">
<g id="line2d_29">
<g>
<path d="M 0 0 L -19.5 0" transform="translate(1117.4 332.6)" style="stroke: #000000; stroke-width: 4"/>
</g>
</g>
<g id="text_23">
<text style="font-size: 30px; font-family: 'DejaVu Sans', 'Liberation Sans', sans-serif; text-anchor: end" x="1080.9" y="343.99">0.0015</text>
</g>
</g>
<g id="ytick_10">
<g id="line2d_30">
<g>
<path d="M 0 0 L -19.5 0" transform="translate(1117.4 263.2)" style="stroke: #000000; stroke-width: 4"/>
</g>
</g>
<g id="text_24">
<text style="font-size: 30px; font-family: 'DejaVu Sans', 'Liberation Sans', sans-serif; text-anchor: end" x="1080.9" y="274.59">0.0020</text>
</g>
</g>
<g id="ytick_11">
<g id="line2d_31">
<g>
<path d="M 0 0 L -19.5 0" transform="translate(1117.4 193.8)" style="stroke: #000000; stroke-width: 4"/>
</g>
</g>
<g id="text_25">
<text style="font-size: 30px; font-family: 'DejaVu Sans', 'Liberation Sans', sans-serif; text-anchor: end" x="1080.9" y="205.19">0.0025</text>
</g>
</g>
<g id="ytick_12">
<g id="line2d_32">
<g>
<path d="M 0 0 L -19.5 0" transform="translate(1117.4 124.4)" style="stroke: #000000; stroke-width: 4"/>
</g>
</g>
<g id="text_26">
<text style="font-size: 30px; font-family: 'DejaVu Sans', 'Liberation Sans', sans-serif; text-anchor: end" x="1080.9" y="135.79">0.0030</text>
</g>
</g>
</g>
<g id="line2d_33">
<g clip-path="url(#pb2a341b785)">
<circle cx="1117.4" cy="455.58" r="5.6" style="fill: #4a7ab7"/>
<circle cx="1138.48" cy="418.52" r="5.6" style="fill: #4a7ab7"/>
<circle cx="1159.55" cy="375.35" r="5.6" style="fill: #4a7ab7"/>
<circle cx="1180.63" cy="333.16" r="5.6" style="fill: #4a7ab7"/>
<circle cx="1201.71" cy="310.95" r="5.6" style="fill: #4a7ab7"/>
<circle cx="1222.78" cy="348.7" r="5.6" style="fill: #4a7ab7"/>
<circle cx="1243.86" cy="321.36" r="5.6" style="fill: #4a7ab7"/>
<circle cx="1264.94" cy="302.9" r="5.6" style="fill: #4a7ab7"/>
<circle cx="1286.01" cy="286.93" r="5.6" style="fill: #4a7ab7"/>
<circle cx="1307.09" cy="236.83" r="5.6" style="fill: #4a7ab7"/>
<circle cx="1328.17" cy="278.33" r="5.6" style="fill: #4a7ab7"/>
<circle cx="1349.24" cy="184.22" r="5.6" style="fill: #4a7ab7"/>
<circle cx="1370.32" cy="203.38" r="5.6" style="fill: #4a7ab7"/>
<circle cx="1391.4" cy="226.97" r="5.6" style="fill: #4a7ab7"/>
<circle cx="1412.47" cy="212.26" r="5.6" style="fill: #4a7ab7"/>
<circle cx="1433.55" cy="236" r="5.6" style="fill: #4a7ab7"/>
<circle cx="1454.63" cy="243.77" r="5.6" style="fill: #4a7ab7"/>
<circle cx="1475.7" cy="311.22" r="5.6" style="fill: #4a7ab7"/>
<circle cx="1496.78" cy="279.02" r="5.6" style="fill: #4a7ab7"/>
<circle cx="1517.86" cy="283.88" r="5.6" style="fill: #4a7ab7"/>
<circle cx="1538.93" cy="272.22" r="5.6" style="fill: #4a7ab7"/>
<circle cx="1560.01" cy="235.86" r="5.6" style="fill: #4a7ab7"/>
<circle cx="1581.09" cy="207.54" r="5.6" style="fill: #4a7ab7"/>
<circle cx="1602.16" cy="223.36" r="5.6" style="fill: #4a7ab7"/>
<circle cx="1623.24" cy="180.61" r="5.6" style="fill: #4a7ab7"/>
<circle cx="1644.32" cy="208.65" r="5.6" style="fill: #4a7ab7"/>
<circle cx="1665.39" cy="246.13" r="5.6" style="fill: #4a7ab7"/>
<circle cx="1686.47" cy="251.54" r="5.6" style="fill: #4a7ab7"/>
<circle cx="1707.55" cy="184.36" r="5.6" style="fill: #4a7ab7"/>
<circle cx="1728.62" cy="300.26" r="5.6" style="fill: #4a7ab7"/>
</g>
</g>
<g id="line2d_34">
<g clip-path="url(#pb2a341b785)">
<circle cx="1117.4" cy="455.58" r="5.6" style="fill: #df7d2f"/>
<circle cx="1138.48" cy="440.86" r="5.6" style="fill: #df7d2f"/>
<circle cx="1159.55" cy="397.28" r="5.6" style="fill: #df7d2f"/>
<circle cx="1180.63" cy="374.66" r="5.6" style="fill: #df7d2f"/>
<circle cx="1201.71" cy="337.87" r="5.6" style="fill: #df7d2f"/>
<circle cx="1222.78" cy="348.42" r="5.6" style="fill: #df7d2f"/>
<circle cx="1243.86" cy="370.49" r="5.6" style="fill: #df7d2f"/>
<circle cx="1264.94" cy="363.83" r="5.6" style="fill: #df7d2f"/>
<circle cx="1286.01" cy="364.25" r="5.6" style="fill: #df7d2f"/>
<circle cx="1307.09" cy="369.52" r="5.6" style="fill: #df7d2f"/>
<circle cx="1328.17" cy="366.88" r="5.6" style="fill: #df7d2f"/>
<circle cx="1349.24" cy="368.13" r="5.6" style="fill: #df7d2f"/>
<circle cx="1370.32" cy="369.24" r="5.6" style="fill: #df7d2f"/>
<circle cx="1391.4" cy="290.54" r="5.6" style="fill: #df7d2f"/>
<circle cx="1412.47" cy="336.07" r="5.6" style="fill: #df7d2f"/>
<circle cx="1433.55" cy="358" r="5.6" style="fill: #df7d2f"/>
<circle cx="1454.63" cy="369.1" r="5.6" style="fill: #df7d2f"/>
<circle cx="1475.7" cy="375.07" r="5.6" style="fill: #df7d2f"/>
<circle cx="1496.78" cy="358.56" r="5.6" style="fill: #df7d2f"/>
<circle cx="1517.86" cy="368.69" r="5.6" style="fill: #df7d2f"/>
<circle cx="1538.93" cy="377.71" r="5.6" style="fill: #df7d2f"/>
<circle cx="1560.01" cy="361.05" r="5.6" style="fill: #df7d2f"/>
<circle cx="1581.09" cy="336.9" r="5.6" style="fill: #df7d2f"/>
<circle cx="1602.16" cy="334.54" r="5.6" style="fill: #df7d2f"/>
<circle cx="1623.24" cy="325.24" r="5.6" style="fill: #df7d2f"/>
<circle cx="1644.32" cy="343.57" r="5.6" style="fill: #df7d2f"/>
<circle cx="1665.39" cy="336.9" r="5.6" style="fill: #df7d2f"/>
<circle cx="1686.47" cy="331.91" r="5.6" style="fill: #df7d2f"/>
<circle cx="1707.55" cy="364.66" r="5.6" style="fill: #df7d2f"/>
<circle cx="1728.62" cy="363.41" r="5.6" style="fill: #df7d2f"/>
</g>
</g>
<g id="patch_4">
<path d="M 1117.4 540.8 
L 1117.4 124.4 
" style="fill: none; stroke: #000000; stroke-width: 4; stroke-linejoin: miter; stroke-linecap: square"/>
</g>
<g id="patch_5">
<path d="M 1117.4 540.8 
L 1749.7 540.8 
" style="fill: none; stroke: #000000; stroke-width: 4; stroke-linejoin: miter; stroke-linecap: square"/>
</g>
</g>
<g id="axes_3">
<g id="line2d_35">
<path d="M 253.77 1180.59 
L 840.46 1180.59 
" clip-path="url(#p0fbfef0906)" style="fill: none; stroke: #d3d3d3; stroke-width: 5; stroke-linecap: square"/>
</g>
<g id="matplotlib.axis_5">
<g id="xtick_15">
<g id="line2d_36">
<g>
<path d="M 0 0 L 0 19.5" transform="translate(222.9 1250.1)" style="stroke: #000000; stroke-width: 4"/>
</g>
</g>
<g id="text_27">
<text style="font-size: 30px; font-family: 'DejaVu Sans', 'Liberation Sans', sans-serif; text-anchor: middle" x="222.9" y="1310.29">0</text>
</g>
</g>
<g id="xtick_16">
<g id="line2d_37">
<g>
<path d="M 0 0 L 0 19.5" transform="translate(377.29 1250.1)" style="stroke: #000000; stroke-width: 4"/>
</g>
</g>
<g id="text_28">
<text style="font-size: 30px; font-family: 'DejaVu Sans', 'Liberation Sans', sans-serif; text-anchor: middle" x="377.29" y="1310.29">5</text>
</g>
</g>
<g id="xtick_17">
<g id="line2d_38">
<g>
<path d="M 0 0 L 0 19.5" transform="translate(531.68 1250.1)" style="stroke: #000000; stroke-width: 4"/>
</g>
</g>
<g id="text_29">
<text style="font-size: 30px; font-family: 'DejaVu Sans', 'Liberation Sans', sans-serif; text-anchor: middle" x="531.68" y="1310.29">10</text>
</g>
</g>
<g id="xtick_18">
<g id="line2d_39">
<g>
<path d="M 0 0 L 0 19.5" transform="translate(686.07 1250.1)" style="stroke: #000000; stroke-width: 4"/>
</g>
</g>
<g id="text_30">
<text style="font-size: 30px; font-family: 'DejaVu Sans', 'Liberation Sans', sans-serif; text-anchor: middle" x="686.07" y="1310.29">15</text>
</g>
</g>
<g id="xtick_19">
<g id="line2d_40">
<g>
<path d="M 0 0 L 0 19.5" transform="translate(840.46 1250.1)" style="stroke: #000000; stroke-width: 4"/>
</g>
</g>
<g id="text_31">
<text style="font-size: 30px; font-family: 'DejaVu Sans', 'Liberation Sans', sans-serif; text-anchor: middle" x="840.46" y="1310.29">20</text>
</g>
</g>
</g>
<g id="matplotlib.axis_6">
<g id="ytick_13">
<g id="line2d_41">
<g>
<path d="M 0 0 L -19.5 0" transform="translate(222.9 1250.1)" style="stroke: #000000; stroke-width: 4"/>
</g>
</g>
<g id="text_32">
<text style="font-size: 30px; font-family: 'DejaVu Sans', 'Liberation Sans', sans-serif; text-anchor: end" x="186.4" y="1261.49">−0.1</text>
</g>
</g>
<g id="ytick_14">
<g id="line2d_42">
<g>
<path d="M 0 0 L -19.5 0" transform="translate(222.9 1180.6)" style="stroke: #000000; stroke-width: 4"/>
</g>
</g>
<g id="text_33">
<text style="font-size: 30px; font-family: 'DejaVu Sans', 'Liberation Sans', sans-serif; text-anchor: end" x="186.4" y="1191.99">0.0</text>
</g>
</g>
<g id="ytick_15">
<g id="line2d_43">
<g>
<path d="M 0 0 L -19.5 0" transform="translate(222.9 1111.1)" style="stroke: #000000; stroke-width: 4"/>
</g>
</g>
<g id="text_34">
<text style="font-size: 30px; font-family: 'DejaVu Sans', 'Liberation Sans', sans-serif; text-anchor: end" x="186.4" y="1122.49">0.1</text>
</g>
</g>
<g id="ytick_16">
<g id="line2d_44">
<g>
<path d="M 0 0 L -19.5 0" transform="translate(222.9 1041.6)" style="stroke: #000000; stroke-width: 4"/>
</g>
</g>
<g id="text_35">
<text style="font-size: 30px; font-family: 'DejaVu Sans', 'Liberation Sans', sans-serif; text-anchor: end" x="186.4" y="1052.99">0.2</text>
</g>
</g>
<g id="ytick_17">
<g id="line2d_45">
<g>
<path d="M 0 0 L -19.5 0" transform="translate(222.9 972.1)" style="stroke: #000000; stroke-width: 4"/>
</g>
</g>
<g id="text_36">
<text style="font-size: 30px; font-family: 'DejaVu Sans', 'Liberation Sans', sans-serif; text-anchor: end" x="186.4" y="983.49">0.3</text>
</g>
</g>
<g id="ytick_18">
<g id="line2d_46">
<g>
<path d="M 0 0 L -19.5 0" transform="translate(222.9 902.6)" style="stroke: #000000; stroke-width: 4"/>
</g>
</g>
<g id="text_37">
<text style="font-size: 30px; font-family: 'DejaVu Sans', 'Liberation Sans', sans-serif; text-anchor: end" x="186.4" y="913.99">0.4</text>
</g>
</g>
</g>
<g id="line2d_47">
<path d="M 253.77 850.61 
L 284.65 981.68 
L 315.53 1060.98 
L 346.41 1108.80 
L 377.29 1137.50 
L 408.16 1153.91 
L 439.04 1163.71 
L 469.92 1168.78 
L 500.80 1172.74 
L 531.68 1175.03 
L 562.55 1176.84 
L 593.43 1178.15 
L 624.31 1179.01 
L 655.19 1179.56 
L 686.07 1179.92 
L 716.94 1180.16 
L 747.82 1180.31 
L 778.70 1180.41 
L 809.58 1180.47 
L 840.46 1180.52 
" clip-path="url(#p0fbfef0906)" style="fill: none; stroke: #afd1e2; stroke-width: 3; stroke-linecap: square"/>
<g clip-path="url(#p0fbfef0906)">
<path d="M 0 0 L 0 6.5 M 0 0 L 5.2 -3.25 M 0 0 L -5.2 -3.25" transform="translate(253.78 850.61)" style="fill: #afd1e2; stroke: #afd1e2; stroke-width: 4.6"/>
<path d="M 0 0 L 0 6.5 M 0 0 L 5.2 -3.25 M 0 0 L -5.2 -3.25" transform="translate(284.66 981.69)" style="fill: #afd1e2; stroke: #afd1e2; stroke-width: 4.6"/>
<path d="M 0 0 L 0 6.5 M 0 0 L 5.2 -3.25 M 0 0 L -5.2 -3.25" transform="translate(315.53 1060.99)" style="fill: #afd1e2; stroke: #afd1e2; stroke-width: 4.6"/>
<path d="M 0 0 L 0 6.5 M 0 0 L 5.2 -3.25 M 0 0 L -5.2 -3.25" transform="translate(346.41 1108.81)" style="fill: #afd1e2; stroke: #afd1e2; stroke-width: 4.6"/>
<path d="M 0 0 L 0 6.5 M 0 0 L 5.2 -3.25 M 0 0 L -5.2 -3.25" transform="translate(377.29 1137.51)" style="fill: #afd1e2; stroke: #afd1e2; stroke-width: 4.6"/>
<path d="M 0 0 L 0 6.5 M 0 0 L 5.2 -3.25 M 0 0 L -5.2 -3.25" transform="translate(408.17 1153.91)" style="fill: #afd1e2; stroke: #afd1e2; stroke-width: 4.6"/>
<path d="M 0 0 L 0 6.5 M 0 0 L 5.2 -3.25 M 0 0 L -5.2 -3.25" transform="translate(439.05 1163.71)" style="fill: #afd1e2; stroke: #afd1e2; stroke-width: 4.6"/>
<path d="M 0 0 L 0 6.5 M 0 0 L 5.2 -3.25 M 0 0 L -5.2 -3.25" transform="translate(469.92 1168.78)" style="fill: #afd1e2; stroke: #afd1e2; stroke-width: 4.6"/>
<path d="M 0 0 L 0 6.5 M 0 0 L 5.2 -3.25 M 0 0 L -5.2 -3.25" transform="translate(500.8 1172.75)" style="fill: #afd1e2; stroke: #afd1e2; stroke-width: 4.6"/>
<path d="M 0 0 L 0 6.5 M 0 0 L 5.2 -3.25 M 0 0 L -5.2 -3.25" transform="translate(531.68 1175.04)" style="fill: #afd1e2; stroke: #afd1e2; stroke-width: 4.6"/>
<path d="M 0 0 L 0 6.5 M 0 0 L 5.2 -3.25 M 0 0 L -5.2 -3.25" transform="translate(562.56 1176.85)" style="fill: #afd1e2; stroke: #afd1e2; stroke-width: 4.6"/>
<path d="M 0 0 L 0 6.5 M 0 0 L 5.2 -3.25 M 0 0 L -5.2 -3.25" transform="translate(593.44 1178.16)" style="fill: #afd1e2; stroke: #afd1e2; stroke-width: 4.6"/>
<path d="M 0 0 L 0 6.5 M 0 0 L 5.2 -3.25 M 0 0 L -5.2 -3.25" transform="translate(624.31 1179.01)" style="fill: #afd1e2; stroke: #afd1e2; stroke-width: 4.6"/>
<path d="M 0 0 L 0 6.5 M 0 0 L 5.2 -3.25 M 0 0 L -5.2 -3.25" transform="translate(655.19 1179.57)" style="fill: #afd1e2; stroke: #afd1e2; stroke-width: 4.6"/>
<path d="M 0 0 L 0 6.5 M 0 0 L 5.2 -3.25 M 0 0 L -5.2 -3.25" transform="translate(686.07 1179.93)" style="fill: #afd1e2; stroke: #afd1e2; stroke-width: 4.6"/>
<path d="M 0 0 L 0 6.5 M 0 0 L 5.2 -3.25 M 0 0 L -5.2 -3.25" transform="translate(716.95 1180.16)" style="fill: #afd1e2; stroke: #afd1e2; stroke-width: 4.6"/>
<path d="M 0 0 L 0 6.5 M 0 0 L 5.2 -3.25 M 0 0 L -5.2 -3.25" transform="translate(747.83 1180.32)" style="fill: #afd1e2; stroke: #afd1e2; stroke-width: 4.6"/>
<path d="M 0 0 L 0 6.5 M 0 0 L 5.2 -3.25 M 0 0 L -5.2 -3.25" transform="translate(778.7 1180.42)" style="fill: #afd1e2; stroke: #afd1e2; stroke-width: 4.6"/>
<path d="M 0 0 L 0 6.5 M 0 0 L 5.2 -3.25 M 0 0 L -5.2 -3.25" transform="translate(809.58 1180.48)" style="fill: #afd1e2; stroke: #afd1e2; stroke-width: 4.6"/>
<path d="M 0 0 L 0 6.5 M 0 0 L 5.2 -3.25 M 0 0 L -5.2 -3.25" transform="translate(840.46 1180.52)" style="fill: #afd1e2; stroke: #afd1e2; stroke-width: 4.6"/>
</g>
</g>
<g id="patch_6">
<path d="M 222.9 1250.1 
L 222.9 834 
" style="fill: none; stroke: #000000; stroke-width: 4; stroke-linejoin: miter; stroke-linecap: square"/>
</g>
<g id="patch_7">
<path d="M 222.9 1250.1 
L 855.9 1250.1 
" style="fill: none; stroke: #000000; stroke-width: 4; stroke-linejoin: miter; stroke-linecap: square"/>
</g>
<g id="line2d_48">
<path d="M 253.77 1082.81 
L 284.65 1121.92 
L 315.53 1145.39 
L 346.41 1159.47 
L 377.29 1167.92 
L 408.16 1172.99 
L 439.04 1176.03 
L 469.92 1177.86 
L 500.80 1178.95 
L 531.68 1179.61 
L 562.55 1180.00 
L 593.43 1180.24 
L 624.31 1180.38 
L 655.19 1180.47 
L 686.07 1180.52 
L 716.94 1180.55 
L 747.82 1180.57 
L 778.70 1180.58 
L 809.58 1180.58 
L 840.46 1180.59 
" clip-path="url(#p0fbfef0906)" style="fill: none; stroke: #4a78b6; stroke-width: 3; stroke-linecap: square"/>
<g clip-path="url(#p0fbfef0906)">
<circle cx="253.78" cy="1082.81" r="5.8" style="fill: #4a78b6"/>
<circle cx="284.66" cy="1121.93" r="5.8" style="fill: #4a78b6"/>
<circle cx="315.53" cy="1145.4" r="5.8" style="fill: #4a78b6"/>
<circle cx="346.41" cy="1159.48" r="5.8" style="fill: #4a78b6"/>
<circle cx="377.29" cy="1167.93" r="5.8" style="fill: #4a78b6"/>
<circle cx="408.17" cy="1173" r="5.8" style="fill: #4a78b6"/>
<circle cx="439.05" cy="1176.04" r="5.8" style="fill: #4a78b6"/>
<circle cx="469.92" cy="1177.86" r="5.8" style="fill: #4a78b6"/>
<circle cx="500.8" cy="1178.96" r="5.8" style="fill: #4a78b6"/>
<circle cx="531.68" cy="1179.61" r="5.8" style="fill: #4a78b6"/>
<circle cx="562.56" cy="1180.01" r="5.8" style="fill: #4a78b6"/>
<circle cx="593.44" cy="1180.24" r="5.8" style="fill: #4a78b6"/>
<circle cx="624.31" cy="1180.39" r="5.8" style="fill: #4a78b6"/>
<circle cx="655.19" cy="1180.47" r="5.8" style="fill: #4a78b6"/>
<circle cx="686.07" cy="1180.52" r="5.8" style="fill: #4a78b6"/>
<circle cx="716.95" cy="1180.55" r="5.8" style="fill: #4a78b6"/>
<circle cx="747.83" cy="1180.57" r="5.8" style="fill: #4a78b6"/>
<circle cx="778.7" cy="1180.58" r="5.8" style="fill: #4a78b6"/>
<circle cx="809.58" cy="1180.59" r="5.8" style="fill: #4a78b6"/>
<circle cx="840.46" cy="1180.59" r="5.8" style="fill: #4a78b6"/>
</g>
</g>
<g id="line2d_49">
<path d="M 253.77 1110.19 
L 284.65 1138.35 
L 315.53 1155.25 
L 346.41 1165.39 
L 377.29 1171.47 
L 408.16 1175.12 
L 439.04 1177.31 
L 469.92 1178.62 
L 500.80 1179.41 
L 531.68 1179.88 
L 562.55 1180.17 
L 593.43 1180.34 
L 624.31 1180.44 
L 655.19 1180.50 
L 686.07 1180.54 
L 716.94 1180.56 
L 747.82 1180.57 
L 778.70 1180.58 
L 809.58 1180.59 
L 840.46 1180.59 
" clip-path="url(#p0fbfef0906)" style="fill: none; stroke: #2e2a8e; stroke-opacity: 0.72; stroke-width: 3; stroke-linecap: square"/>
<g clip-path="url(#p0fbfef0906)">
<path d="M 0 0 L 0 -6.5 M 0 0 L -5.2 3.25 M 0 0 L 5.2 3.25" transform="translate(253.78 1110.2)" style="fill: #2e2a8e; fill-opacity: 0.72; stroke: #2e2a8e; stroke-opacity: 0.72; stroke-width: 4.6"/>
<path d="M 0 0 L 0 -6.5 M 0 0 L -5.2 3.25 M 0 0 L 5.2 3.25" transform="translate(284.66 1138.36)" style="fill: #2e2a8e; fill-opacity: 0.72; stroke: #2e2a8e; stroke-opacity: 0.72; stroke-width: 4.6"/>
<path d="M 0 0 L 0 -6.5 M 0 0 L -5.2 3.25 M 0 0 L 5.2 3.25" transform="translate(315.53 1155.25)" style="fill: #2e2a8e; fill-opacity: 0.72; stroke: #2e2a8e; stroke-opacity: 0.72; stroke-width: 4.6"/>
<path d="M 0 0 L 0 -6.5 M 0 0 L -5.2 3.25 M 0 0 L 5.2 3.25" transform="translate(346.41 1165.39)" style="fill: #2e2a8e; fill-opacity: 0.72; stroke: #2e2a8e; stroke-opacity: 0.72; stroke-width: 4.6"/>
<path d="M 0 0 L 0 -6.5 M 0 0 L -5.2 3.25 M 0 0 L 5.2 3.25" transform="translate(377.29 1171.48)" style="fill: #2e2a8e; fill-opacity: 0.72; stroke: #2e2a8e; stroke-opacity: 0.72; stroke-width: 4.6"/>
<path d="M 0 0 L 0 -6.5 M 0 0 L -5.2 3.25 M 0 0 L 5.2 3.25" transform="translate(408.17 1175.12)" style="fill: #2e2a8e; fill-opacity: 0.72; stroke: #2e2a8e; stroke-opacity: 0.72; stroke-width: 4.6"/>
<path d="M 0 0 L 0 -6.5 M 0 0 L -5.2 3.25 M 0 0 L 5.2 3.25" transform="translate(439.05 1177.31)" style="fill: #2e2a8e; fill-opacity: 0.72; stroke: #2e2a8e; stroke-opacity: 0.72; stroke-width: 4.6"/>
<path d="M 0 0 L 0 -6.5 M 0 0 L -5.2 3.25 M 0 0 L 5.2 3.25" transform="translate(469.92 1178.63)" style="fill: #2e2a8e; fill-opacity: 0.72; stroke: #2e2a8e; stroke-opacity: 0.72; stroke-width: 4.6"/>
<path d="M 0 0 L 0 -6.5 M 0 0 L -5.2 3.25 M 0 0 L 5.2 3.25" transform="translate(500.8 1179.42)" style="fill: #2e2a8e; fill-opacity: 0.72; stroke: #2e2a8e; stroke-opacity: 0.72; stroke-width: 4.6"/>
<path d="M 0 0 L 0 -6.5 M 0 0 L -5.2 3.25 M 0 0 L 5.2 3.25" transform="translate(531.68 1179.89)" style="fill: #2e2a8e; fill-opacity: 0.72; stroke: #2e2a8e; stroke-opacity: 0.72; stroke-width: 4.6"/>
<path d="M 0 0 L 0 -6.5 M 0 0 L -5.2 3.25 M 0 0 L 5.2 3.25" transform="translate(562.56 1180.17)" style="fill: #2e2a8e; fill-opacity: 0.72; stroke: #2e2a8e; stroke-opacity: 0.72; stroke-width: 4.6"/>
<path d="M 0 0 L 0 -6.5 M 0 0 L -5.2 3.25 M 0 0 L 5.2 3.25" transform="translate(593.44 1180.34)" style="fill: #2e2a8e; fill-opacity: 0.72; stroke: #2e2a8e; stroke-opacity: 0.72; stroke-width: 4.6"/>
<path d="M 0 0 L 0 -6.5 M 0 0 L -5.2 3.25 M 0 0 L 5.2 3.25" transform="translate(624.31 1180.45)" style="fill: #2e2a8e; fill-opacity: 0.72; stroke: #2e2a8e; stroke-opacity: 0.72; stroke-width: 4.6"/>
<path d="M 0 0 L 0 -6.5 M 0 0 L -5.2 3.25 M 0 0 L 5.2 3.25" transform="translate(655.19 1180.51)" style="fill: #2e2a8e; fill-opacity: 0.72; stroke: #2e2a8e; stroke-opacity: 0.72; stroke-width: 4.6"/>
<path d="M 0 0 L 0 -6.5 M 0 0 L -5.2 3.25 M 0 0 L 5.2 3.25" transform="translate(686.07 1180.54)" style="fill: #2e2a8e; fill-opacity: 0.72; stroke: #2e2a8e; stroke-opacity: 0.72; stroke-width: 4.6"/>
<path d="M 0 0 L 0 -6.5 M 0 0 L -5.2 3.25 M 0 0 L 5.2 3.25" transform="translate(716.95 1180.57)" style="fill: #2e2a8e; fill-opacity: 0.72; stroke: #2e2a8e; stroke-opacity: 0.72; stroke-width: 4.6"/>
<path d="M 0 0 L 0 -6.5 M 0 0 L -5.2 3.25 M 0 0 L 5.2 3.25" transform="translate(747.83 1180.58)" style="fill: #2e2a8e; fill-opacity: 0.72; stroke: #2e2a8e; stroke-opacity: 0.72; stroke-width: 4.6"/>
<path d="M 0 0 L 0 -6.5 M 0 0 L -5.2 3.25 M 0 0 L 5.2 3.25" transform="translate(778.7 1180.59)" style="fill: #2e2a8e; fill-opacity: 0.72; stroke: #2e2a8e; stroke-opacity: 0.72; stroke-width: 4.6"/>
<path d="M 0 0 L 0 -6.5 M 0 0 L -5.2 3.25 M 0 0 L 5.2 3.25" transform="translate(809.58 1180.59)" style="fill: #2e2a8e; fill-opacity: 0.72; stroke: #2e2a8e; stroke-opacity: 0.72; stroke-width: 4.6"/>
<path d="M 0 0 L 0 -6.5 M 0 0 L -5.2 3.25 M 0 0 L 5.2 3.25" transform="translate(840.46 1180.6)" style="fill: #2e2a8e; fill-opacity: 0.72; stroke: #2e2a8e; stroke-opacity: 0.72; stroke-width: 4.6"/>
</g>
</g>
</g>
<g id="axes_4">
<g id="line2d_50">
<path d="M 1144.17 1180.59 
L 1730.86 1180.59 
" clip-path="url(#pb8b177ad2a)" style="fill: none; stroke: #d3d3d3; stroke-width: 5; stroke-linecap: square"/>
</g>
<g id="matplotlib.axis_7">
<g id="xtick_20">
<g id="line2d_51">
<g>
<path d="M 0 0 L 0 19.5" transform="translate(1113.3 1250.1)" style="stroke: #000000; stroke-width: 4"/>
</g>
</g>
<g id="text_38">
<text style="font-size: 30px; font-family: 'DejaVu Sans', 'Liberation Sans', sans-serif; text-anchor: middle" x="1113.3" y="1310.29">0</text>
</g>
</g>
<g id="xtick_21">
<g id="line2d_52">
<g>
<path d="M 0 0 L 0 19.5" transform="translate(1267.69 1250.1)" style="stroke: #000000; stroke-width: 4"/>
</g>
</g>
<g id="text_39">
<text style="font-size: 30px; font-family: 'DejaVu Sans', 'Liberation Sans', sans-serif; text-anchor: middle" x="1267.69" y="1310.29">5</text>
</g>
</g>
<g id="xtick_22">
<g id="line2d_53">
<g>
<path d="M 0 0 L 0 19.5" transform="translate(1422.08 1250.1)" style="stroke: #000000; stroke-width: 4"/>
</g>
</g>
<g id="text_40">
<text style="font-size: 30px; font-family: 'DejaVu Sans', 'Liberation Sans', sans-serif; text-anchor: middle" x="1422.08" y="1310.29">10</text>
</g>
</g>
<g id="xtick_23">
<g id="line2d_54">
<g>
<path d="M 0 0 L 0 19.5" transform="translate(1576.47 1250.1)" style="stroke: #000000; stroke-width: 4"/>
</g>
</g>
<g id="text_41">
<text style="font-size: 30px; font-family: 'DejaVu Sans', 'Liberation Sans', sans-serif; text-anchor: middle" x="1576.47" y="1310.29">15</text>
</g>
</g>
<g id="xtick_24">
<g id="line2d_55">
<g>
<path d="M 0 0 L 0 19.5" transform="translate(1730.86 1250.1)" style="stroke: #000000; stroke-width: 4"/>
</g>
</g>
<g id="text_42">
<text style="font-size: 30px; font-family: 'DejaVu Sans', 'Liberation Sans', sans-serif; text-anchor: middle" x="1730.86" y="1310.29">20</text>
</g>
</g>
</g>
<g id="matplotlib.axis_8">
<g id="ytick_19">
<g id="line2d_56">
<g>
<path d="M 0 0 L -19.5 0" transform="translate(1113.3 1250.1)" style="stroke: #000000; stroke-width: 4"/>
</g>
</g>
<g id="text_43">
<text style="font-size: 30px; font-family: 'DejaVu Sans', 'Liberation Sans', sans-serif; text-anchor: end" x="1076.8" y="1261.49">−0.1</text>
</g>
</g>
<g id="ytick_20">
<g id="line2d_57">
<g>
<path d="M 0 0 L -19.5 0" transform="translate(1113.3 1180.6)" style="stroke: #000000; stroke-width: 4"/>
</g>
</g>
<g id="text_44">
<text style="font-size: 30px; font-family: 'DejaVu Sans', 'Liberation Sans', sans-serif; text-anchor: end" x="1076.8" y="1191.99">0.0</text>
</g>
</g>
<g id="ytick_21">
<g id="line2d_58">
<g>
<path d="M 0 0 L -19.5 0" transform="translate(1113.3 1111.1)" style="stroke: #000000; stroke-width: 4"/>
</g>
</g>
<g id="text_45">
<text style="font-size: 30px; font-family: 'DejaVu Sans', 'Liberation Sans', sans-serif; text-anchor: end" x="1076.8" y="1122.49">0.1</text>
</g>
</g>
<g id="ytick_22">
<g id="line2d_59">
<g>
<path d="M 0 0 L -19.5 0" transform="translate(1113.3 1041.6)" style="stroke: #000000; stroke-width: 4"/>
</g>
</g>
<g id="text_46">
<text style="font-size: 30px; font-family: 'DejaVu Sans', 'Liberation Sans', sans-serif; text-anchor: end" x="1076.8" y="1052.99">0.2</text>
</g>
</g>
<g id="ytick_23">
<g id="line2d_60">
<g>
<path d="M 0 0 L -19.5 0" transform="translate(1113.3 972.1)" style="stroke: #000000; stroke-width: 4"/>
</g>
</g>
<g id="text_47">
<text style="font-size: 30px; font-family: 'DejaVu Sans', 'Liberation Sans', sans-serif; text-anchor: end" x="1076.8" y="983.49">0.3</text>
</g>
</g>
<g id="ytick_24">
<g id="line2d_61">
<g>
<path d="M 0 0 L -19.5 0" transform="translate(1113.3 902.6)" style="stroke: #000000; stroke-width: 4"/>
</g>
</g>
<g id="text_48">
<text style="font-size: 30px; font-family: 'DejaVu Sans', 'Liberation Sans', sans-serif; text-anchor: end" x="1076.8" y="913.99">0.4</text>
</g>
</g>
</g>
<g id="line2d_62">
<path d="M 1144.17 850.61 
L 1175.05 981.68 
L 1205.93 1060.98 
L 1236.81 1108.80 
L 1267.69 1137.50 
L 1298.56 1153.91 
L 1329.44 1163.71 
L 1360.32 1168.78 
L 1391.20 1172.74 
L 1422.08 1175.03 
L 1452.95 1176.84 
L 1483.83 1178.15 
L 1514.71 1179.01 
L 1545.59 1179.56 
L 1576.47 1179.92 
L 1607.34 1180.16 
L 1638.22 1180.31 
L 1669.10 1180.41 
L 1699.98 1180.47 
L 1730.86 1180.52 
" clip-path="url(#pb8b177ad2a)" style="fill: none; stroke: #afd1e2; stroke-width: 3; stroke-linecap: square"/>
<g clip-path="url(#pb8b177ad2a)">
<path d="M 0 0 L 0 6.5 M 0 0 L 5.2 -3.25 M 0 0 L -5.2 -3.25" transform="translate(1144.18 850.61)" style="fill: #afd1e2; stroke: #afd1e2; stroke-width: 4.6"/>
<path d="M 0 0 L 0 6.5 M 0 0 L 5.2 -3.25 M 0 0 L -5.2 -3.25" transform="translate(1175.06 981.69)" style="fill: #afd1e2; stroke: #afd1e2; stroke-width: 4.6"/>
<path d="M 0 0 L 0 6.5 M 0 0 L 5.2 -3.25 M 0 0 L -5.2 -3.25" transform="translate(1205.93 1060.99)" style="fill: #afd1e2; stroke: #afd1e2; stroke-width: 4.6"/>
<path d="M 0 0 L 0 6.5 M 0 0 L 5.2 -3.25 M 0 0 L -5.2 -3.25" transform="translate(1236.81 1108.81)" style="fill: #afd1e2; stroke: #afd1e2; stroke-width: 4.6"/>
<path d="M 0 0 L 0 6.5 M 0 0 L 5.2 -3.25 M 0 0 L -5.2 -3.25" transform="translate(1267.69 1137.51)" style="fill: #afd1e2; stroke: #afd1e2; stroke-width: 4.6"/>
<path d="M 0 0 L 0 6.5 M 0 0 L 5.2 -3.25 M 0 0 L -5.2 -3.25" transform="translate(1298.57 1153.91)" style="fill: #afd1e2; stroke: #afd1e2; stroke-width: 4.6"/>
<path d="M 0 0 L 0 6.5 M 0 0 L 5.2 -3.25 M 0 0 L -5.2 -3.25" transform="translate(1329.45 1163.71)" style="fill: #afd1e2; stroke: #afd1e2; stroke-width: 4.6"/>
<path d="M 0 0 L 0 6.5 M 0 0 L 5.2 -3.25 M 0 0 L -5.2 -3.25" transform="translate(1360.32 1168.78)" style="fill: #afd1e2; stroke: #afd1e2; stroke-width: 4.6"/>
<path d="M 0 0 L 0 6.5 M 0 0 L 5.2 -3.25 M 0 0 L -5.2 -3.25" transform="translate(1391.2 1172.75)" style="fill: #afd1e2; stroke: #afd1e2; stroke-width: 4.6"/>
<path d="M 0 0 L 0 6.5 M 0 0 L 5.2 -3.25 M 0 0 L -5.2 -3.25" transform="translate(1422.08 1175.04)" style="fill: #afd1e2; stroke: #afd1e2; stroke-width: 4.6"/>
<path d="M 0 0 L 0 6.5 M 0 0 L 5.2 -3.25 M 0 0 L -5.2 -3.25" transform="translate(1452.96 1176.85)" style="fill: #afd1e2; stroke: #afd1e2; stroke-width: 4.6"/>
<path d="M 0 0 L 0 6.5 M 0 0 L 5.2 -3.25 M 0 0 L -5.2 -3.25" transform="translate(1483.84 1178.16)" style="fill: #afd1e2; stroke: #afd1e2; stroke-width: 4.6"/>
<path d="M 0 0 L 0 6.5 M 0 0 L 5.2 -3.25 M 0 0 L -5.2 -3.25" transform="translate(1514.71 1179.01)" style="fill: #afd1e2; stroke: #afd1e2; stroke-width: 4.6"/>
<path d="M 0 0 L 0 6.5 M 0 0 L 5.2 -3.25 M 0 0 L -5.2 -3.25" transform="translate(1545.59 1179.57)" style="fill: #afd1e2; stroke: #afd1e2; stroke-width: 4.6"/>
<path d="M 0 0 L 0 6.5 M 0 0 L 5.2 -3.25 M 0 0 L -5.2 -3.25" transform="translate(1576.47 1179.93)" style="fill: #afd1e2; stroke: #afd1e2; stroke-width: 4.6"/>
<path d="M 0 0 L 0 6.5 M 0 0 L 5.2 -3.25 M 0 0 L -5.2 -3.25" transform="translate(1607.35 1180.16)" style="fill: #afd1e2; stroke: #afd1e2; stroke-width: 4.6"/>
<path d="M 0 0 L 0 6.5 M 0 0 L 5.2 -3.25 M 0 0 L -5.2 -3.25" transform="translate(1638.23 1180.32)" style="fill: #afd1e2; stroke: #afd1e2; stroke-width: 4.6"/>
<path d="M 0 0 L 0 6.5 M 0 0 L 5.2 -3.25 M 0 0 L -5.2 -3.25" transform="translate(1669.1 1180.42)" style="fill: #afd1e2; stroke: #afd1e2; stroke-width: 4.6"/>
<path d="M 0 0 L 0 6.5 M 0 0 L 5.2 -3.25 M 0 0 L -5.2 -3.25" transform="translate(1699.98 1180.48)" style="fill: #afd1e2; stroke: #afd1e2; stroke-width: 4.6"/>
<path d="M 0 0 L 0 6.5 M 0 0 L 5.2 -3.25 M 0 0 L -5.2 -3.25" transform="translate(1730.86 1180.52)" style="fill: #afd1e2; stroke: #afd1e2; stroke-width: 4.6"/>
</g>
</g>
<g id="patch_8">
<path d="M 1113.3 1250.1 
L 1113.3 834 
" style="fill: none; stroke: #000000; stroke-width: 4; stroke-linejoin: miter; stroke-linecap: square"/>
</g>
<g id="patch_9">
<path d="M 1113.3 1250.1 
L 1746.3 1250.1 
" style="fill: none; stroke: #000000; stroke-width: 4; stroke-linejoin: miter; stroke-linecap: square"/>
</g>
<g id="line2d_63">
<path d="M 1144.17 1082.81 
L 1175.05 1121.92 
L 1205.93 1145.39 
L 1236.81 1159.47 
L 1267.69 1167.92 
L 1298.56 1172.99 
L 1329.44 1176.03 
L 1360.32 1177.86 
L 1391.20 1178.95 
L 1422.08 1179.61 
L 1452.95 1180.00 
L 1483.83 1180.24 
L 1514.71 1180.38 
L 1545.59 1180.47 
L 1576.47 1180.52 
L 1607.34 1180.55 
L 1638.22 1180.57 
L 1669.10 1180.58 
L 1699.98 1180.58 
L 1730.86 1180.59 
" clip-path="url(#pb8b177ad2a)" style="fill: none; stroke: #4a78b6; stroke-width: 3; stroke-linecap: square"/>
<g clip-path="url(#pb8b177ad2a)">
<circle cx="1144.18" cy="1082.81" r="5.8" style="fill: #4a78b6"/>
<circle cx="1175.06" cy="1121.93" r="5.8" style="fill: #4a78b6"/>
<circle cx="1205.93" cy="1145.4" r="5.8" style="fill: #4a78b6"/>
<circle cx="1236.81" cy="1159.48" r="5.8" style="fill: #4a78b6"/>
<circle cx="1267.69" cy="1167.93" r="5.8" style="fill: #4a78b6"/>
<circle cx="1298.57" cy="1173" r="5.8" style="fill: #4a78b6"/>
<circle cx="1329.45" cy="1176.04" r="5.8" style="fill: #4a78b6"/>
<circle cx="1360.32" cy="1177.86" r="5.8" style="fill: #4a78b6"/>
<circle cx="1391.2" cy="1178.96" r="5.8" style="fill: #4a78b6"/>
<circle cx="1422.08" cy="1179.61" r="5.8" style="fill: #4a78b6"/>
<circle cx="1452.96" cy="1180.01" r="5.8" style="fill: #4a78b6"/>
<circle cx="1483.84" cy="1180.24" r="5.8" style="fill: #4a78b6"/>
<circle cx="1514.71" cy="1180.39" r="5.8" style="fill: #4a78b6"/>
<circle cx="1545.59" cy="1180.47" r="5.8" style="fill: #4a78b6"/>
<circle cx="1576.47" cy="1180.52" r="5.8" style="fill: #4a78b6"/>
<circle cx="1607.35" cy="1180.55" r="5.8" style="fill: #4a78b6"/>
<circle cx="1638.23" cy="1180.57" r="5.8" style="fill: #4a78b6"/>
<circle cx="1669.1" cy="1180.58" r="5.8" style="fill: #4a78b6"/>
<circle cx="1699.98" cy="1180.59" r="5.8" style="fill: #4a78b6"/>
<circle cx="1730.86" cy="1180.59" r="5.8" style="fill: #4a78b6"/>
</g>
</g>
<g id="line2d_64">
<path d="M 1144.17 1110.19 
L 1175.05 1138.35 
L 1205.93 1155.25 
L 1236.81 1165.39 
L 1267.69 1171.47 
L 1298.56 1175.12 
L 1329.44 1177.31 
L 1360.32 1178.62 
L 1391.20 1179.41 
L 1422.08 1179.88 
L 1452.95 1180.17 
L 1483.83 1180.34 
L 1514.71 1180.44 
L 1545.59 1180.50 
L 1576.47 1180.54 
L 1607.34 1180.56 
L 1638.22 1180.57 
L 1669.10 1180.58 
L 1699.98 1180.59 
L 1730.86 1180.59 
" clip-path="url(#pb8b177ad2a)" style="fill: none; stroke: #2e2a8e; stroke-opacity: 0.72; stroke-width: 3; stroke-linecap: square"/>
<g clip-path="url(#pb8b177ad2a)">
<path d="M 0 0 L 0 -6.5 M 0 0 L -5.2 3.25 M 0 0 L 5.2 3.25" transform="translate(1144.18 1110.2)" style="fill: #2e2a8e; fill-opacity: 0.72; stroke: #2e2a8e; stroke-opacity: 0.72; stroke-width: 4.6"/>
<path d="M 0 0 L 0 -6.5 M 0 0 L -5.2 3.25 M 0 0 L 5.2 3.25" transform="translate(1175.06 1138.36)" style="fill: #2e2a8e; fill-opacity: 0.72; stroke: #2e2a8e; stroke-opacity: 0.72; stroke-width: 4.6"/>
<path d="M 0 0 L 0 -6.5 M 0 0 L -5.2 3.25 M 0 0 L 5.2 3.25" transform="translate(1205.93 1155.25)" style="fill: #2e2a8e; fill-opacity: 0.72; stroke: #2e2a8e; stroke-opacity: 0.72; stroke-width: 4.6"/>
<path d="M 0 0 L 0 -6.5 M 0 0 L -5.2 3.25 M 0 0 L 5.2 3.25" transform="translate(1236.81 1165.39)" style="fill: #2e2a8e; fill-opacity: 0.72; stroke: #2e2a8e; stroke-opacity: 0.72; stroke-width: 4.6"/>
<path d="M 0 0 L 0 -6.5 M 0 0 L -5.2 3.25 M 0 0 L 5.2 3.25" transform="translate(1267.69 1171.48)" style="fill: #2e2a8e; fill-opacity: 0.72; stroke: #2e2a8e; stroke-opacity: 0.72; stroke-width: 4.6"/>
<path d="M 0 0 L 0 -6.5 M 0 0 L -5.2 3.25 M 0 0 L 5.2 3.25" transform="translate(1298.57 1175.12)" style="fill: #2e2a8e; fill-opacity: 0.72; stroke: #2e2a8e; stroke-opacity: 0.72; stroke-width: 4.6"/>
<path d="M 0 0 L 0 -6.5 M 0 0 L -5.2 3.25 M 0 0 L 5.2 3.25" transform="translate(1329.45 1177.31)" style="fill: #2e2a8e; fill-opacity: 0.72; stroke: #2e2a8e; stroke-opacity: 0.72; stroke-width: 4.6"/>
<path d="M 0 0 L 0 -6.5 M 0 0 L -5.2 3.25 M 0 0 L 5.2 3.25" transform="translate(1360.32 1178.63)" style="fill: #2e2a8e; fill-opacity: 0.72; stroke: #2e2a8e; stroke-opacity: 0.72; stroke-width: 4.6"/>
<path d="M 0 0 L 0 -6.5 M 0 0 L -5.2 3.25 M 0 0 L 5.2 3.25" transform="translate(1391.2 1179.42)" style="fill: #2e2a8e; fill-opacity: 0.72; stroke: #2e2a8e; stroke-opacity: 0.72; stroke-width: 4.6"/>
<path d="M 0 0 L 0 -6.5 M 0 0 L -5.2 3.25 M 0 0 L 5.2 3.25" transform="translate(1422.08 1179.89)" style="fill: #2e2a8e; fill-opacity: 0.72; stroke: #2e2a8e; stroke-opacity: 0.72; stroke-width: 4.6"/>
<path d="M 0 0 L 0 -6.5 M 0 0 L -5.2 3.25 M 0 0 L 5.2 3.25" transform="translate(1452.96 1180.17)" style="fill: #2e2a8e; fill-opacity: 0.72; stroke: #2e2a8e; stroke-opacity: 0.72; stroke-width: 4.6"/>
<path d="M 0 0 L 0 -6.5 M 0 0 L -5.2 3.25 M 0 0 L 5.2 3.25" transform="translate(1483.84 1180.34)" style="fill: #2e2a8e; fill-opacity: 0.72; stroke: #2e2a8e; stroke-opacity: 0.72; stroke-width: 4.6"/>
<path d="M 0 0 L 0 -6.5 M 0 0 L -5.2 3.25 M 0 0 L 5.2 3.25" transform="translate(1514.71 1180.45)" style="fill: #2e2a8e; fill-opacity: 0.72; stroke: #2e2a8e; stroke-opacity: 0.72; stroke-width: 4.6"/>
<path d="M 0 0 L 0 -6.5 M 0 0 L -5.2 3.25 M 0 0 L 5.2 3.25" transform="translate(1545.59 1180.51)" style="fill: #2e2a8e; fill-opacity: 0.72; stroke: #2e2a8e; stroke-opacity: 0.72; stroke-width: 4.6"/>
<path d="M 0 0 L 0 -6.5 M 0 0 L -5.2 3.25 M 0 0 L 5.2 3.25" transform="translate(1576.47 1180.54)" style="fill: #2e2a8e; fill-opacity: 0.72; stroke: #2e2a8e; stroke-opacity: 0.72; stroke-width: 4.6"/>
<path d="M 0 0 L 0 -6.5 M 0 0 L -5.2 3.25 M 0 0 L 5.2 3.25" transform="translate(1607.35 1180.57)" style="fill: #2e2a8e; fill-opacity: 0.72; stroke: #2e2a8e; stroke-opacity: 0.72; stroke-width: 4.6"/>
<path d="M 0 0 L 0 -6.5 M 0 0 L -5.2 3.25 M 0 0 L 5.2 3.25" transform="translate(1638.23 1180.58)" style="fill: #2e2a8e; fill-opacity: 0.72; stroke: #2e2a8e; stroke-opacity: 0.72; stroke-width: 4.6"/>
<path d="M 0 0 L 0 -6.5 M 0 0 L -5.2 3.25 M 0 0 L 5.2 3.25" transform="translate(1669.1 1180.59)" style="fill: #2e2a8e; fill-opacity: 0.72; stroke: #2e2a8e; stroke-opacity: 0.72; stroke-width: 4.6"/>
<path d="M 0 0 L 0 -6.5 M 0 0 L -5.2 3.25 M 0 0 L 5.2 3.25" transform="translate(1699.98 1180.59)" style="fill: #2e2a8e; fill-opacity: 0.72; stroke: #2e2a8e; stroke-opacity: 0.72; stroke-width: 4.6"/>
<path d="M 0 0 L 0 -6.5 M 0 0 L -5.2 3.25 M 0 0 L 5.2 3.25" transform="translate(1730.86 1180.6)" style="fill: #2e2a8e; fill-opacity: 0.72; stroke: #2e2a8e; stroke-opacity: 0.72; stroke-width: 4.6"/>
</g>
</g>
</g>
<g id="line2d_65">
<path d="M 593 139.8 
L 623.2 139.8 
" style="fill: none; stroke: #2e2f7f; stroke-width: 4.8"/>
</g>
<g id="line2d_66">
<path d="M 608.1 169.8 
" style="fill: none"/>
<g>
<circle cx="608.1" cy="169.8" r="5.6" style="fill: #4a7ab7"/>
</g>
</g>
<g id="line2d_67">
<path d="M 593 199.8 
L 623.2 199.8 
" style="fill: none; stroke: #d34a29; stroke-width: 4.8"/>
</g>
<g id="line2d_68">
<path d="M 608.1 229.8 
" style="fill: none"/>
<g>
<circle cx="608.1" cy="229.8" r="5.6" style="fill: #df7d2f"/>
</g>
</g>
<g id="line2d_69">
<path d="M 1527 432.3 
L 1557.2 432.3 
" style="fill: none; stroke: #2e2f7f; stroke-width: 4.8"/>
</g>
<g id="line2d_70">
<path d="M 1542.1 462.3 
" style="fill: none"/>
<g>
<circle cx="1542.1" cy="462.3" r="5.6" style="fill: #4a7ab7"/>
</g>
</g>
<g id="line2d_71">
<path d="M 1527 492.3 
L 1557.2 492.3 
" style="fill: none; stroke: #d34a29; stroke-width: 4.8"/>
</g>
<g id="line2d_72">
<path d="M 1542.1 522.3 
" style="fill: none"/>
<g>
<circle cx="1542.1" cy="522.3" r="5.6" style="fill: #df7d2f"/>
</g>
</g>
<g id="line2d_73">
<path d="M 713.3 849.6 
" style="fill: none"/>
<g>
<path d="M 0 0 L 0 6.5 M 0 0 L 5.2 -3.25 M 0 0 L -5.2 -3.25" transform="translate(713.3 849.6)" style="fill: #afd1e2; stroke: #afd1e2; stroke-width: 4.6"/>
</g>
</g>
<g id="line2d_74">
<path d="M 713.3 880.65 
" style="fill: none"/>
<g>
<circle cx="713.3" cy="880.65" r="5.8" style="fill: #4a78b6"/>
</g>
</g>
<g id="line2d_75">
<path d="M 713.3 911.7 
" style="fill: none"/>
<g>
<path d="M 0 0 L 0 -6.5 M 0 0 L -5.2 3.25 M 0 0 L 5.2 3.25" transform="translate(713.3 911.7)" style="fill: #2e2a8e; fill-opacity: 0.72; stroke: #2e2a8e; stroke-opacity: 0.72; stroke-width: 4.6"/>
</g>
</g>
<g id="line2d_76">
<path d="M 1603.3 849.6 
" style="fill: none"/>
<g>
<path d="M 0 0 L 0 6.5 M 0 0 L 5.2 -3.25 M 0 0 L -5.2 -3.25" transform="translate(1603.3 849.6)" style="fill: #afd1e2; stroke: #afd1e2; stroke-width: 4.6"/>
</g>
</g>
<g id="line2d_77">
<path d="M 1603.3 880.65 
" style="fill: none"/>
<g>
<circle cx="1603.3" cy="880.65" r="5.8" style="fill: #4a78b6"/>
</g>
</g>
<g id="line2d_78">
<path d="M 1603.3 911.7 
" style="fill: none"/>
<g>
<path d="M 0 0 L 0 -6.5 M 0 0 L -5.2 3.25 M 0 0 L 5.2 3.25" transform="translate(1603.3 911.7)" style="fill: #2e2a8e; fill-opacity: 0.72; stroke: #2e2a8e; stroke-opacity: 0.72; stroke-width: 4.6"/>
</g>
</g>
<g id="text_49">
<text style="font-size: 39.6px; font-family: 'DejaVu Sans', 'Liberation Sans', sans-serif; text-anchor: middle" x="877.4" y="30">Deviation due to parameter realization</text>
</g>
<g id="text_50">
<text style="font-size: 39.6px; font-family: 'DejaVu Sans', 'Liberation Sans', sans-serif; text-anchor: middle" x="877.3" y="739.9">Deviation due to inputs</text>
</g>
<g id="text_51">
<text style="font-size: 35.7px; font-family: 'DejaVu Sans', 'Liberation Sans', sans-serif; text-anchor: middle" x="500" y="94.7">Fixed depth/time</text>
</g>
<g id="text_52">
<text style="font-size: 35.7px; font-family: 'DejaVu Sans', 'Liberation Sans', sans-serif; text-anchor: middle" x="1433.5" y="94.6">Fixed width</text>
</g>
<g id="text_53">
<text style="font-size: 35.7px; font-family: 'DejaVu Sans', 'Liberation Sans', sans-serif; text-anchor: middle" x="539.4" y="804">RNN</text>
</g>
<g id="text_54">
<text style="font-size: 35.7px; font-family: 'DejaVu Sans', 'Liberation Sans', sans-serif; text-anchor: middle" x="1429.8" y="804">DNN</text>
</g>
<g id="text_55">
<text style="font-weight: 700; font-size: 40px; font-family: 'DejaVu Sans', 'Liberation Sans', sans-serif; text-anchor: start" x="2.4" y="125.1">a)</text>
</g>
<g id="text_56">
<text style="font-weight: 700; font-size: 40px; font-family: 'DejaVu Sans', 'Liberation Sans', sans-serif; text-anchor: start" x="885.5" y="125">b)</text>
</g>
<g id="text_57">
<text style="font-weight: 700; font-size: 40px; font-family: 'DejaVu Sans', 'Liberation Sans', sans-serif; text-anchor: start" x="6.1" y="834.1">c)</text>
</g>
<g id="text_58">
<text style="font-weight: 700; font-size: 40px; font-family: 'DejaVu Sans', 'Liberation Sans', sans-serif; text-anchor: start" x="896.2" y="834">d)</text>
</g>
<g id="text_59">
<!-- $n$ -->
<g transform="translate(489.85 640.9)">
<text>
<tspan x="0" y="-0.20" style="font-style: oblique; font-size: 30px; font-family: 'DejaVu Sans', 'Liberation Sans', sans-serif">n</tspan>
</text>
</g>
</g>
<g id="text_60">
<!-- $a$ -->
<g transform="translate(1424.2 641.3)">
<text>
<tspan x="0" y="-0.20" style="font-style: oblique; font-size: 30px; font-family: 'DejaVu Sans', 'Liberation Sans', sans-serif">a</tspan>
</text>
</g>
</g>
<g id="text_61">
<text style="font-size: 30px; font-family: 'DejaVu Sans', 'Liberation Sans', sans-serif; text-anchor: middle" x="539.4" y="1353.9">a</text>
</g>
<g id="text_62">
<!-- $\Delta_{11}^{(a,a),(a,a)}\;/\;(\overline{C}^{(a,a)})^2$ -->
<g transform="translate(36.6 473.2) rotate(-90)">
<text>
<tspan x="0" y="-0.30" style="font-size: 30px; font-family: 'DejaVu Sans', 'Liberation Sans', sans-serif">Δ</tspan>
<tspan x="146.29" y="-0.30" style="font-size: 30px; font-family: 'DejaVu Sans', 'Liberation Sans', sans-serif">/</tspan>
<tspan x="164.51" y="-0.30" style="font-size: 30px; font-family: 'DejaVu Sans', 'Liberation Sans', sans-serif">(</tspan>
<tspan x="251.16" y="-0.30" style="font-size: 30px; font-family: 'DejaVu Sans', 'Liberation Sans', sans-serif">)</tspan>
<tspan x="20.80" y="-13.93" style="font-size: 21px; font-family: 'DejaVu Sans', 'Liberation Sans', sans-serif">(</tspan>
<tspan x="20.80" y="7.89" style="font-size: 21px; font-family: 'DejaVu Sans', 'Liberation Sans', sans-serif">1</tspan>
<tspan x="34.17" y="7.89" style="font-size: 21px; font-family: 'DejaVu Sans', 'Liberation Sans', sans-serif">1</tspan>
<tspan x="41.87" y="-13.93" style="font-size: 21px; font-family: 'DejaVu Sans', 'Liberation Sans', sans-serif">,</tspan>
<tspan x="65.50" y="-13.93" style="font-size: 21px; font-family: 'DejaVu Sans', 'Liberation Sans', sans-serif">)</tspan>
<tspan x="73.69" y="-13.93" style="font-size: 21px; font-family: 'DejaVu Sans', 'Liberation Sans', sans-serif">,</tspan>
<tspan x="84.46" y="-13.93" style="font-size: 21px; font-family: 'DejaVu Sans', 'Liberation Sans', sans-serif">(</tspan>
<tspan x="105.52" y="-13.93" style="font-size: 21px; font-family: 'DejaVu Sans', 'Liberation Sans', sans-serif">,</tspan>
<tspan x="129.16" y="-13.93" style="font-size: 21px; font-family: 'DejaVu Sans', 'Liberation Sans', sans-serif">)</tspan>
<tspan x="197.45" y="-11.79" style="font-size: 21px; font-family: 'DejaVu Sans', 'Liberation Sans', sans-serif">(</tspan>
<tspan x="218.51" y="-11.79" style="font-size: 21px; font-family: 'DejaVu Sans', 'Liberation Sans', sans-serif">,</tspan>
<tspan x="242.15" y="-11.79" style="font-size: 21px; font-family: 'DejaVu Sans', 'Liberation Sans', sans-serif">)</tspan>
<tspan x="263.15" y="-11.79" style="font-size: 21px; font-family: 'DejaVu Sans', 'Liberation Sans', sans-serif">2</tspan>
<tspan x="29.00" y="-13.93" style="font-style: oblique; font-size: 21px; font-family: 'DejaVu Sans', 'Liberation Sans', sans-serif">a</tspan>
<tspan x="52.63" y="-13.93" style="font-style: oblique; font-size: 21px; font-family: 'DejaVu Sans', 'Liberation Sans', sans-serif">a</tspan>
<tspan x="92.65" y="-13.93" style="font-style: oblique; font-size: 21px; font-family: 'DejaVu Sans', 'Liberation Sans', sans-serif">a</tspan>
<tspan x="116.29" y="-13.93" style="font-style: oblique; font-size: 21px; font-family: 'DejaVu Sans', 'Liberation Sans', sans-serif">a</tspan>
<tspan x="205.65" y="-11.79" style="font-style: oblique; font-size: 21px; font-family: 'DejaVu Sans', 'Liberation Sans', sans-serif">a</tspan>
<tspan x="229.28" y="-11.79" style="font-style: oblique; font-size: 21px; font-family: 'DejaVu Sans', 'Liberation Sans', sans-serif">a</tspan>
<tspan x="176.22" y="0.14" style="font-style: oblique; font-size: 30px; font-family: 'DejaVu Sans', 'Liberation Sans', sans-serif">C</tspan>
</text>
<rect x="176.22" y="-27.25" width="20.94" height="1.87"/>
</g>
</g>
<g id="text_63">
<!-- $\Delta_{11}^{(a,a),(a,a)}\;/\;(\overline{C}^{(a,a)})^2$ -->
<g transform="translate(951.9 473.2) rotate(-90)">
<text>
<tspan x="0" y="-0.30" style="font-size: 30px; font-family: 'DejaVu Sans', 'Liberation Sans', sans-serif">Δ</tspan>
<tspan x="146.29" y="-0.30" style="font-size: 30px; font-family: 'DejaVu Sans', 'Liberation Sans', sans-serif">/</tspan>
<tspan x="164.51" y="-0.30" style="font-size: 30px; font-family: 'DejaVu Sans', 'Liberation Sans', sans-serif">(</tspan>
<tspan x="251.16" y="-0.30" style="font-size: 30px; font-family: 'DejaVu Sans', 'Liberation Sans', sans-serif">)</tspan>
<tspan x="20.80" y="-13.93" style="font-size: 21px; font-family: 'DejaVu Sans', 'Liberation Sans', sans-serif">(</tspan>
<tspan x="20.80" y="7.89" style="font-size: 21px; font-family: 'DejaVu Sans', 'Liberation Sans', sans-serif">1</tspan>
<tspan x="34.17" y="7.89" style="font-size: 21px; font-family: 'DejaVu Sans', 'Liberation Sans', sans-serif">1</tspan>
<tspan x="41.87" y="-13.93" style="font-size: 21px; font-family: 'DejaVu Sans', 'Liberation Sans', sans-serif">,</tspan>
<tspan x="65.50" y="-13.93" style="font-size: 21px; font-family: 'DejaVu Sans', 'Liberation Sans', sans-serif">)</tspan>
<tspan x="73.69" y="-13.93" style="font-size: 21px; font-family: 'DejaVu Sans', 'Liberation Sans', sans-serif">,</tspan>
<tspan x="84.46" y="-13.93" style="font-size: 21px; font-family: 'DejaVu Sans', 'Liberation Sans', sans-serif">(</tspan>
<tspan x="105.52" y="-13.93" style="font-size: 21px; font-family: 'DejaVu Sans', 'Liberation Sans', sans-serif">,</tspan>
<tspan x="129.16" y="-13.93" style="font-size: 21px; font-family: 'DejaVu Sans', 'Liberation Sans', sans-serif">)</tspan>
<tspan x="197.45" y="-11.79" style="font-size: 21px; font-family: 'DejaVu Sans', 'Liberation Sans', sans-serif">(</tspan>
<tspan x="218.51" y="-11.79" style="font-size: 21px; font-family: 'DejaVu Sans', 'Liberation Sans', sans-serif">,</tspan>
<tspan x="242.15" y="-11.79" style="font-size: 21px; font-family: 'DejaVu Sans', 'Liberation Sans', sans-serif">)</tspan>
<tspan x="263.15" y="-11.79" style="font-size: 21px; font-family: 'DejaVu Sans', 'Liberation Sans', sans-serif">2</tspan>
<tspan x="29.00" y="-13.93" style="font-style: oblique; font-size: 21px; font-family: 'DejaVu Sans', 'Liberation Sans', sans-serif">a</tspan>
<tspan x="52.63" y="-13.93" style="font-style: oblique; font-size: 21px; font-family: 'DejaVu Sans', 'Liberation Sans', sans-serif">a</tspan>
<tspan x="92.65" y="-13.93" style="font-style: oblique; font-size: 21px; font-family: 'DejaVu Sans', 'Liberation Sans', sans-serif">a</tspan>
<tspan x="116.29" y="-13.93" style="font-style: oblique; font-size: 21px; font-family: 'DejaVu Sans', 'Liberation Sans', sans-serif">a</tspan>
<tspan x="205.65" y="-11.79" style="font-style: oblique; font-size: 21px; font-family: 'DejaVu Sans', 'Liberation Sans', sans-serif">a</tspan>
<tspan x="229.28" y="-11.79" style="font-style: oblique; font-size: 21px; font-family: 'DejaVu Sans', 'Liberation Sans', sans-serif">a</tspan>
<tspan x="176.22" y="0.14" style="font-style: oblique; font-size: 30px; font-family: 'DejaVu Sans', 'Liberation Sans', sans-serif">C</tspan>
</text>
<rect x="176.22" y="-27.25" width="20.94" height="1.87"/>
</g>
</g>
<g id="text_64">
<!-- $\langle\Delta_{12}^{(a,a),(0,0)}\,g^2\,\mathrm{std}_x(\,x^T x\,/n_{in}\,)$ -->
<g transform="translate(89 1238.5) rotate(-90)">
<text>
<tspan x="0" y="-0.16" style="font-size: 30px; font-family: 'DejaVu Sans', 'Liberation Sans', sans-serif">⟨</tspan>
<tspan x="11.70" y="-0.16" style="font-size: 30px; font-family: 'DejaVu Sans', 'Liberation Sans', sans-serif">Δ</tspan>
<tspan x="195.22" y="-0.16" style="font-size: 30px; font-family: 'DejaVu Sans', 'Liberation Sans', sans-serif">s</tspan>
<tspan x="210.85" y="-0.16" style="font-size: 30px; font-family: 'DejaVu Sans', 'Liberation Sans', sans-serif">t</tspan>
<tspan x="222.61" y="-0.16" style="font-size: 30px; font-family: 'DejaVu Sans', 'Liberation Sans', sans-serif">d</tspan>
<tspan x="255.19" y="-0.16" style="font-size: 30px; font-family: 'DejaVu Sans', 'Liberation Sans', sans-serif">(</tspan>
<tspan x="327.13" y="-0.16" style="font-size: 30px; font-family: 'DejaVu Sans', 'Liberation Sans', sans-serif">/</tspan>
<tspan x="381.09" y="-0.16" style="font-size: 30px; font-family: 'DejaVu Sans', 'Liberation Sans', sans-serif">)</tspan>
<tspan x="32.51" y="-14.06" style="font-size: 21px; font-family: 'DejaVu Sans', 'Liberation Sans', sans-serif">(</tspan>
<tspan x="32.51" y="8.03" style="font-size: 21px; font-family: 'DejaVu Sans', 'Liberation Sans', sans-serif">1</tspan>
<tspan x="45.87" y="8.03" style="font-size: 21px; font-family: 'DejaVu Sans', 'Liberation Sans', sans-serif">2</tspan>
<tspan x="53.57" y="-14.06" style="font-size: 21px; font-family: 'DejaVu Sans', 'Liberation Sans', sans-serif">,</tspan>
<tspan x="77.21" y="-14.06" style="font-size: 21px; font-family: 'DejaVu Sans', 'Liberation Sans', sans-serif">)</tspan>
<tspan x="85.40" y="-14.06" style="font-size: 21px; font-family: 'DejaVu Sans', 'Liberation Sans', sans-serif">,</tspan>
<tspan x="96.16" y="-14.06" style="font-size: 21px; font-family: 'DejaVu Sans', 'Liberation Sans', sans-serif">(</tspan>
<tspan x="104.36" y="-14.06" style="font-size: 21px; font-family: 'DejaVu Sans', 'Liberation Sans', sans-serif">0</tspan>
<tspan x="117.72" y="-14.06" style="font-size: 21px; font-family: 'DejaVu Sans', 'Liberation Sans', sans-serif">,</tspan>
<tspan x="128.49" y="-14.06" style="font-size: 21px; font-family: 'DejaVu Sans', 'Liberation Sans', sans-serif">0</tspan>
<tspan x="141.85" y="-14.06" style="font-size: 21px; font-family: 'DejaVu Sans', 'Liberation Sans', sans-serif">)</tspan>
<tspan x="176.17" y="-11.64" style="font-size: 21px; font-family: 'DejaVu Sans', 'Liberation Sans', sans-serif">2</tspan>
<tspan x="40.70" y="-14.06" style="font-style: oblique; font-size: 21px; font-family: 'DejaVu Sans', 'Liberation Sans', sans-serif">a</tspan>
<tspan x="64.34" y="-14.06" style="font-style: oblique; font-size: 21px; font-family: 'DejaVu Sans', 'Liberation Sans', sans-serif">a</tspan>
<tspan x="241.94" y="4.75" style="font-style: oblique; font-size: 21px; font-family: 'DejaVu Sans', 'Liberation Sans', sans-serif">x</tspan>
<tspan x="290.86" y="-11.64" style="font-style: oblique; font-size: 21px; font-family: 'DejaVu Sans', 'Liberation Sans', sans-serif">T</tspan>
<tspan x="356.25" y="4.75" style="font-style: oblique; font-size: 21px; font-family: 'DejaVu Sans', 'Liberation Sans', sans-serif">i</tspan>
<tspan x="362.09" y="4.75" style="font-style: oblique; font-size: 21px; font-family: 'DejaVu Sans', 'Liberation Sans', sans-serif">n</tspan>
<tspan x="155.73" y="-0.16" style="font-style: oblique; font-size: 30px; font-family: 'DejaVu Sans', 'Liberation Sans', sans-serif">g</tspan>
<tspan x="271.76" y="-0.16" style="font-style: oblique; font-size: 30px; font-family: 'DejaVu Sans', 'Liberation Sans', sans-serif">x</tspan>
<tspan x="304.51" y="-0.16" style="font-style: oblique; font-size: 30px; font-family: 'DejaVu Sans', 'Liberation Sans', sans-serif">x</tspan>
<tspan x="337.24" y="-0.16" style="font-style: oblique; font-size: 30px; font-family: 'DejaVu Sans', 'Liberation Sans', sans-serif">n</tspan>
</text>
</g>
</g>
<g id="text_65">
<!-- $\langle\Delta_{12}^{(a,a),(0,0)}\,g^2\,\mathrm{std}_x(\,x^T x\,/n_{in}\,)$ -->
<g transform="translate(979 1238.5) rotate(-90)">
<text>
<tspan x="0" y="-0.16" style="font-size: 30px; font-family: 'DejaVu Sans', 'Liberation Sans', sans-serif">⟨</tspan>
<tspan x="11.70" y="-0.16" style="font-size: 30px; font-family: 'DejaVu Sans', 'Liberation Sans', sans-serif">Δ</tspan>
<tspan x="195.22" y="-0.16" style="font-size: 30px; font-family: 'DejaVu Sans', 'Liberation Sans', sans-serif">s</tspan>
<tspan x="210.85" y="-0.16" style="font-size: 30px; font-family: 'DejaVu Sans', 'Liberation Sans', sans-serif">t</tspan>
<tspan x="222.61" y="-0.16" style="font-size: 30px; font-family: 'DejaVu Sans', 'Liberation Sans', sans-serif">d</tspan>
<tspan x="255.19" y="-0.16" style="font-size: 30px; font-family: 'DejaVu Sans', 'Liberation Sans', sans-serif">(</tspan>
<tspan x="327.13" y="-0.16" style="font-size: 30px; font-family: 'DejaVu Sans', 'Liberation Sans', sans-serif">/</tspan>
<tspan x="381.09" y="-0.16" style="font-size: 30px; font-family: 'DejaVu Sans', 'Liberation Sans', sans-serif">)</tspan>
<tspan x="32.51" y="-14.06" style="font-size: 21px; font-family: 'DejaVu Sans', 'Liberation Sans', sans-serif">(</tspan>
<tspan x="32.51" y="8.03" style="font-size: 21px; font-family: 'DejaVu Sans', 'Liberation Sans', sans-serif">1</tspan>
<tspan x="45.87" y="8.03" style="font-size: 21px; font-family: 'DejaVu Sans', 'Liberation Sans', sans-serif">2</tspan>
<tspan x="53.57" y="-14.06" style="font-size: 21px; font-family: 'DejaVu Sans', 'Liberation Sans', sans-serif">,</tspan>
<tspan x="77.21" y="-14.06" style="font-size: 21px; font-family: 'DejaVu Sans', 'Liberation Sans', sans-serif">)</tspan>
<tspan x="85.40" y="-14.06" style="font-size: 21px; font-family: 'DejaVu Sans', 'Liberation Sans', sans-serif">,</tspan>
<tspan x="96.16" y="-14.06" style="font-size: 21px; font-family: 'DejaVu Sans', 'Liberation Sans', sans-serif">(</tspan>
<tspan x="104.36" y="-14.06" style="font-size: 21px; font-family: 'DejaVu Sans', 'Liberation Sans', sans-serif">0</tspan>
<tspan x="117.72" y="-14.06" style="font-size: 21px; font-family: 'DejaVu Sans', 'Liberation Sans', sans-serif">,</tspan>
<tspan x="128.49" y="-14.06" style="font-size: 21px; font-family: 'DejaVu Sans', 'Liberation Sans', sans-serif">0</tspan>
<tspan x="141.85" y="-14.06" style="font-size: 21px; font-family: 'DejaVu Sans', 'Liberation Sans', sans-serif">)</tspan>
<tspan x="176.17" y="-11.64" style="font-size: 21px; font-family: 'DejaVu Sans', 'Liberation Sans', sans-serif">2</tspan>
<tspan x="40.70" y="-14.06" style="font-style: oblique; font-size: 21px; font-family: 'DejaVu Sans', 'Liberation Sans', sans-serif">a</tspan>
<tspan x="64.34" y="-14.06" style="font-style: oblique; font-size: 21px; font-family: 'DejaVu Sans', 'Liberation Sans', sans-serif">a</tspan>
<tspan x="241.94" y="4.75" style="font-style: oblique; font-size: 21px; font-family: 'DejaVu Sans', 'Liberation Sans', sans-serif">x</tspan>
<tspan x="290.86" y="-11.64" style="font-style: oblique; font-size: 21px; font-family: 'DejaVu Sans', 'Liberation Sans', sans-serif">T</tspan>
<tspan x="356.25" y="4.75" style="font-style: oblique; font-size: 21px; font-family: 'DejaVu Sans', 'Liberation Sans', sans-serif">i</tspan>
<tspan x="362.09" y="4.75" style="font-style: oblique; font-size: 21px; font-family: 'DejaVu Sans', 'Liberation Sans', sans-serif">n</tspan>
<tspan x="155.73" y="-0.16" style="font-style: oblique; font-size: 30px; font-family: 'DejaVu Sans', 'Liberation Sans', sans-serif">g</tspan>
<tspan x="271.76" y="-0.16" style="font-style: oblique; font-size: 30px; font-family: 'DejaVu Sans', 'Liberation Sans', sans-serif">x</tspan>
<tspan x="304.51" y="-0.16" style="font-style: oblique; font-size: 30px; font-family: 'DejaVu Sans', 'Liberation Sans', sans-serif">x</tspan>
<tspan x="337.24" y="-0.16" style="font-style: oblique; font-size: 30px; font-family: 'DejaVu Sans', 'Liberation Sans', sans-serif">n</tspan>
</text>
</g>
</g>
<g id="text_66">
<text style="font-size: 24.8px; font-family: 'DejaVu Sans', 'Liberation Sans', sans-serif; text-anchor: start" x="627.6" y="147.9">NLO correction</text>
</g>
<g id="text_67">
<text style="font-size: 24.8px; font-family: 'DejaVu Sans', 'Liberation Sans', sans-serif; text-anchor: start" x="627.6" y="177.9">RNN</text>
</g>
<g id="text_68">
<text style="font-size: 24.8px; font-family: 'DejaVu Sans', 'Liberation Sans', sans-serif; text-anchor: start" x="627.6" y="207.9">NLO correction</text>
</g>
<g id="text_69">
<text style="font-size: 24.8px; font-family: 'DejaVu Sans', 'Liberation Sans', sans-serif; text-anchor: start" x="627.6" y="237.9">DNN</text>
</g>
<g id="text_70">
<text style="font-size: 24.8px; font-family: 'DejaVu Sans', 'Liberation Sans', sans-serif; text-anchor: start" x="1561.6" y="440.4">NLO correction</text>
</g>
<g id="text_71">
<text style="font-size: 24.8px; font-family: 'DejaVu Sans', 'Liberation Sans', sans-serif; text-anchor: start" x="1561.6" y="470.4">RNN</text>
</g>
<g id="text_72">
<text style="font-size: 24.8px; font-family: 'DejaVu Sans', 'Liberation Sans', sans-serif; text-anchor: start" x="1561.6" y="500.4">NLO correction</text>
</g>
<g id="text_73">
<text style="font-size: 24.8px; font-family: 'DejaVu Sans', 'Liberation Sans', sans-serif; text-anchor: start" x="1561.6" y="530.4">DNN</text>
</g>
<g id="text_74">
<!-- $n_{in}$ = 4 -->
<g transform="translate(732.4 856.8)">
<text>
<tspan x="0" y="-0.78" style="font-style: oblique; font-size: 24.8px; font-family: 'DejaVu Sans', 'Liberation Sans', sans-serif">n</tspan>
<tspan x="15.68" y="3.32" style="font-style: oblique; font-size: 17.36px; font-family: 'DejaVu Sans', 'Liberation Sans', sans-serif">i</tspan>
<tspan x="20.49" y="3.32" style="font-style: oblique; font-size: 17.36px; font-family: 'DejaVu Sans', 'Liberation Sans', sans-serif">n</tspan>
<tspan x="32.16" y="-0.78" style="font-size: 24.8px; font-family: 'DejaVu Sans', 'Liberation Sans', sans-serif"> </tspan>
<tspan x="40.03" y="-0.78" style="font-size: 24.8px; font-family: 'DejaVu Sans', 'Liberation Sans', sans-serif">=</tspan>
<tspan x="60.76" y="-0.78" style="font-size: 24.8px; font-family: 'DejaVu Sans', 'Liberation Sans', sans-serif"> </tspan>
<tspan x="68.63" y="-0.78" style="font-size: 24.8px; font-family: 'DejaVu Sans', 'Liberation Sans', sans-serif">4</tspan>
</text>
</g>
</g>
<g id="text_75">
<!-- $n_{in}$ = 50 -->
<g transform="translate(732.4 887.85)">
<text>
<tspan x="0" y="-0.43" style="font-style: oblique; font-size: 24.8px; font-family: 'DejaVu Sans', 'Liberation Sans', sans-serif">n</tspan>
<tspan x="15.68" y="3.66" style="font-style: oblique; font-size: 17.36px; font-family: 'DejaVu Sans', 'Liberation Sans', sans-serif">i</tspan>
<tspan x="20.49" y="3.66" style="font-style: oblique; font-size: 17.36px; font-family: 'DejaVu Sans', 'Liberation Sans', sans-serif">n</tspan>
<tspan x="32.16" y="-0.43" style="font-size: 24.8px; font-family: 'DejaVu Sans', 'Liberation Sans', sans-serif"> </tspan>
<tspan x="40.03" y="-0.43" style="font-size: 24.8px; font-family: 'DejaVu Sans', 'Liberation Sans', sans-serif">=</tspan>
<tspan x="60.76" y="-0.43" style="font-size: 24.8px; font-family: 'DejaVu Sans', 'Liberation Sans', sans-serif"> </tspan>
<tspan x="68.63" y="-0.43" style="font-size: 24.8px; font-family: 'DejaVu Sans', 'Liberation Sans', sans-serif">5</tspan>
<tspan x="84.38" y="-0.43" style="font-size: 24.8px; font-family: 'DejaVu Sans', 'Liberation Sans', sans-serif">0</tspan>
</text>
</g>
</g>
<g id="text_76">
<!-- $n_{in}$ = 100 -->
<g transform="translate(732.4 918.9)">
<text>
<tspan x="0" y="-0.43" style="font-style: oblique; font-size: 24.8px; font-family: 'DejaVu Sans', 'Liberation Sans', sans-serif">n</tspan>
<tspan x="15.68" y="3.66" style="font-style: oblique; font-size: 17.36px; font-family: 'DejaVu Sans', 'Liberation Sans', sans-serif">i</tspan>
<tspan x="20.49" y="3.66" style="font-style: oblique; font-size: 17.36px; font-family: 'DejaVu Sans', 'Liberation Sans', sans-serif">n</tspan>
<tspan x="32.16" y="-0.43" style="font-size: 24.8px; font-family: 'DejaVu Sans', 'Liberation Sans', sans-serif"> </tspan>
<tspan x="40.03" y="-0.43" style="font-size: 24.8px; font-family: 'DejaVu Sans', 'Liberation Sans', sans-serif">=</tspan>
<tspan x="60.76" y="-0.43" style="font-size: 24.8px; font-family: 'DejaVu Sans', 'Liberation Sans', sans-serif"> </tspan>
<tspan x="68.63" y="-0.43" style="font-size: 24.8px; font-family: 'DejaVu Sans', 'Liberation Sans', sans-serif">1</tspan>
<tspan x="84.38" y="-0.43" style="font-size: 24.8px; font-family: 'DejaVu Sans', 'Liberation Sans', sans-serif">0</tspan>
<tspan x="100.12" y="-0.43" style="font-size: 24.8px; font-family: 'DejaVu Sans', 'Liberation Sans', sans-serif">0</tspan>
</text>
</g>
</g>
<g id="text_77">
<!-- $n_{in}$ = 4 -->
<g transform="translate(1622.4 856.8)">
<text>
<tspan x="0" y="-0.78" style="font-style: oblique; font-size: 24.8px; font-family: 'DejaVu Sans', 'Liberation Sans', sans-serif">n</tspan>
<tspan x="15.68" y="3.32" style="font-style: oblique; font-size: 17.36px; font-family: 'DejaVu Sans', 'Liberation Sans', sans-serif">i</tspan>
<tspan x="20.49" y="3.32" style="font-style: oblique; font-size: 17.36px; font-family: 'DejaVu Sans', 'Liberation Sans', sans-serif">n</tspan>
<tspan x="32.16" y="-0.78" style="font-size: 24.8px; font-family: 'DejaVu Sans', 'Liberation Sans', sans-serif"> </tspan>
<tspan x="40.03" y="-0.78" style="font-size: 24.8px; font-family: 'DejaVu Sans', 'Liberation Sans', sans-serif">=</tspan>
<tspan x="60.76" y="-0.78" style="font-size: 24.8px; font-family: 'DejaVu Sans', 'Liberation Sans', sans-serif"> </tspan>
<tspan x="68.63" y="-0.78" style="font-size: 24.8px; font-family: 'DejaVu Sans', 'Liberation Sans', sans-serif">4</tspan>
</text>
</g>
</g>
<g id="text_78">
<!-- $n_{in}$ = 50 -->
<g transform="translate(1622.4 887.85)">
<text>
<tspan x="0" y="-0.43" style="font-style: oblique; font-size: 24.8px; font-family: 'DejaVu Sans', 'Liberation Sans', sans-serif">n</tspan>
<tspan x="15.68" y="3.66" style="font-style: oblique; font-size: 17.36px; font-family: 'DejaVu Sans', 'Liberation Sans', sans-serif">i</tspan>
<tspan x="20.49" y="3.66" style="font-style: oblique; font-size: 17.36px; font-family: 'DejaVu Sans', 'Liberation Sans', sans-serif">n</tspan>
<tspan x="32.16" y="-0.43" style="font-size: 24.8px; font-family: 'DejaVu Sans', 'Liberation Sans', sans-serif"> </tspan>
<tspan x="40.03" y="-0.43" style="font-size: 24.8px; font-family: 'DejaVu Sans', 'Liberation Sans', sans-serif">=</tspan>
<tspan x="60.76" y="-0.43" style="font-size: 24.8px; font-family: 'DejaVu Sans', 'Liberation Sans', sans-serif"> </tspan>
<tspan x="68.63" y="-0.43" style="font-size: 24.8px; font-family: 'DejaVu Sans', 'Liberation Sans', sans-serif">5</tspan>
<tspan x="84.38" y="-0.43" style="font-size: 24.8px; font-family: 'DejaVu Sans', 'Liberation Sans', sans-serif">0</tspan>
</text>
</g>
</g>
<g id="text_79">
<!-- $n_{in}$ = 100 -->
<g transform="translate(1622.4 918.9)">
<text>
<tspan x="0" y="-0.43" style="font-style: oblique; font-size: 24.8px; font-family: 'DejaVu Sans', 'Liberation Sans', sans-serif">n</tspan>
<tspan x="15.68" y="3.66" style="font-style: oblique; font-size: 17.36px; font-family: 'DejaVu Sans', 'Liberation Sans', sans-serif">i</tspan>
<tspan x="20.49" y="3.66" style="font-style: oblique; font-size: 17.36px; font-family: 'DejaVu Sans', 'Liberation Sans', sans-serif">n</tspan>
<tspan x="32.16" y="-0.43" style="font-size: 24.8px; font-family: 'DejaVu Sans', 'Liberation Sans', sans-serif"> </tspan>
<tspan x="40.03" y="-0.43" style="font-size: 24.8px; font-family: 'DejaVu Sans', 'Liberation Sans', sans-serif">=</tspan>
<tspan x="60.76" y="-0.43" style="font-size: 24.8px; font-family: 'DejaVu Sans', 'Liberation Sans', sans-serif"> </tspan>
<tspan x="68.63" y="-0.43" style="font-size: 24.8px; font-family: 'DejaVu Sans', 'Liberation Sans', sans-serif">1</tspan>
<tspan x="84.38" y="-0.43" style="font-size: 24.8px; font-family: 'DejaVu Sans', 'Liberation Sans', sans-serif">0</tspan>
<tspan x="100.12" y="-0.43" style="font-size: 24.8px; font-family: 'DejaVu Sans', 'Liberation Sans', sans-serif">0</tspan>
</text>
</g>
</g>
</g>
<defs>
<clipPath id="p0a8ad5ee20">
<rect x="183.3" y="124.4" width="632.3" height="416.4"/>
</clipPath>
<clipPath id="pb2a341b785">
<rect x="1117.4" y="124.4" width="632.3" height="416.4"/>
</clipPath>
<clipPath id="p0fbfef0906">
<rect x="222.9" y="834" width="633" height="416.1"/>
</clipPath>
<clipPath id="pb8b177ad2a">
<rect x="1113.3" y="834" width="633" height="416.1"/>
</clipPath>
</defs>
</svg>

</body></html>
